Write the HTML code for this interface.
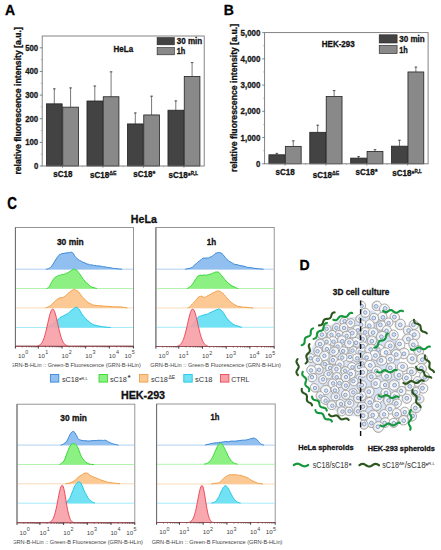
<!DOCTYPE html>
<html><head><meta charset="utf-8"><style>
html,body{margin:0;padding:0;background:#fff;width:441px;height:550px;overflow:hidden;}
svg{display:block;font-family:"Liberation Sans", sans-serif;}
</style></head><body>
<svg width="441" height="550" viewBox="0 0 441 550" font-family='"Liberation Sans", sans-serif'>
<rect width="441" height="550" fill="#fff"/>
<text x="5.00" y="15.30" font-size="14.6" font-weight="bold" stroke="#000" stroke-width="0.3" text-anchor="start" fill="#000" textLength="10.1" lengthAdjust="spacingAndGlyphs" >A</text>
<text x="223.80" y="15.40" font-size="14" font-weight="bold" stroke="#000" stroke-width="0.3" text-anchor="start" fill="#000" >B</text>
<text x="7.20" y="208.80" font-size="15.6" font-weight="bold" stroke="#000" stroke-width="0.3" text-anchor="start" fill="#000" textLength="9.7" lengthAdjust="spacingAndGlyphs" >C</text>
<text x="299.60" y="270.10" font-size="14" font-weight="bold" stroke="#000" stroke-width="0.3" text-anchor="start" fill="#000" >D</text>
<line x1="54.31" y1="103.84" x2="54.31" y2="88.47" stroke="#555" stroke-width="0.8"/>
<line x1="53.01" y1="88.87" x2="55.61" y2="88.87" stroke="#444" stroke-width="0.9"/>
<rect x="46.47" y="103.84" width="15.68" height="62.16" fill="#434343" stroke="#222" stroke-width="0.8"/>
<line x1="70.59" y1="107.15" x2="70.59" y2="87.53" stroke="#555" stroke-width="0.8"/>
<line x1="69.29" y1="87.93" x2="71.89" y2="87.93" stroke="#444" stroke-width="0.9"/>
<rect x="62.75" y="107.15" width="15.68" height="58.85" fill="#898989" stroke="#222" stroke-width="0.8"/>
<line x1="94.81" y1="101.00" x2="94.81" y2="85.64" stroke="#555" stroke-width="0.8"/>
<line x1="93.51" y1="86.04" x2="96.11" y2="86.04" stroke="#444" stroke-width="0.9"/>
<rect x="86.97" y="101.00" width="15.68" height="65.00" fill="#434343" stroke="#222" stroke-width="0.8"/>
<line x1="111.09" y1="96.75" x2="111.09" y2="71.45" stroke="#555" stroke-width="0.8"/>
<line x1="109.79" y1="71.85" x2="112.39" y2="71.85" stroke="#444" stroke-width="0.9"/>
<rect x="103.25" y="96.75" width="15.68" height="69.25" fill="#898989" stroke="#222" stroke-width="0.8"/>
<line x1="135.31" y1="123.93" x2="135.31" y2="112.58" stroke="#555" stroke-width="0.8"/>
<line x1="134.01" y1="112.98" x2="136.61" y2="112.98" stroke="#444" stroke-width="0.9"/>
<rect x="127.47" y="123.93" width="15.68" height="42.07" fill="#434343" stroke="#222" stroke-width="0.8"/>
<line x1="151.59" y1="114.95" x2="151.59" y2="95.80" stroke="#555" stroke-width="0.8"/>
<line x1="150.29" y1="96.20" x2="152.89" y2="96.20" stroke="#444" stroke-width="0.9"/>
<rect x="143.75" y="114.95" width="15.68" height="51.05" fill="#898989" stroke="#222" stroke-width="0.8"/>
<line x1="175.81" y1="110.22" x2="175.81" y2="100.53" stroke="#555" stroke-width="0.8"/>
<line x1="174.51" y1="100.93" x2="177.11" y2="100.93" stroke="#444" stroke-width="0.9"/>
<rect x="167.97" y="110.22" width="15.68" height="55.78" fill="#434343" stroke="#222" stroke-width="0.8"/>
<line x1="192.09" y1="76.42" x2="192.09" y2="62.24" stroke="#555" stroke-width="0.8"/>
<line x1="190.79" y1="62.64" x2="193.39" y2="62.64" stroke="#444" stroke-width="0.9"/>
<rect x="184.25" y="76.42" width="15.68" height="89.58" fill="#898989" stroke="#222" stroke-width="0.8"/>
<rect x="42.20" y="36.00" width="162.00" height="130.00" fill="none" stroke="#777" stroke-width="0.9"/>
<line x1="39.80" y1="166.00" x2="42.20" y2="166.00" stroke="#666" stroke-width="0.8"/>
<line x1="39.80" y1="142.36" x2="42.20" y2="142.36" stroke="#666" stroke-width="0.8"/>
<line x1="39.80" y1="118.73" x2="42.20" y2="118.73" stroke="#666" stroke-width="0.8"/>
<line x1="39.80" y1="95.09" x2="42.20" y2="95.09" stroke="#666" stroke-width="0.8"/>
<line x1="39.80" y1="71.45" x2="42.20" y2="71.45" stroke="#666" stroke-width="0.8"/>
<line x1="39.80" y1="47.82" x2="42.20" y2="47.82" stroke="#666" stroke-width="0.8"/>
<line x1="40.80" y1="154.18" x2="42.20" y2="154.18" stroke="#888" stroke-width="0.6"/>
<line x1="40.80" y1="130.55" x2="42.20" y2="130.55" stroke="#888" stroke-width="0.6"/>
<line x1="40.80" y1="106.91" x2="42.20" y2="106.91" stroke="#888" stroke-width="0.6"/>
<line x1="40.80" y1="83.27" x2="42.20" y2="83.27" stroke="#888" stroke-width="0.6"/>
<line x1="40.80" y1="59.64" x2="42.20" y2="59.64" stroke="#888" stroke-width="0.6"/>
<text x="38.20" y="168.95" font-size="8.2" font-weight="bold" stroke="#1a1a1a" stroke-width="0.3" text-anchor="end" fill="#1a1a1a" textLength="4.3" lengthAdjust="spacingAndGlyphs" >0</text>
<text x="38.20" y="145.31" font-size="8.2" font-weight="bold" stroke="#1a1a1a" stroke-width="0.3" text-anchor="end" fill="#1a1a1a" textLength="13.0" lengthAdjust="spacingAndGlyphs" >100</text>
<text x="38.20" y="121.68" font-size="8.2" font-weight="bold" stroke="#1a1a1a" stroke-width="0.3" text-anchor="end" fill="#1a1a1a" textLength="13.0" lengthAdjust="spacingAndGlyphs" >200</text>
<text x="38.20" y="98.04" font-size="8.2" font-weight="bold" stroke="#1a1a1a" stroke-width="0.3" text-anchor="end" fill="#1a1a1a" textLength="13.0" lengthAdjust="spacingAndGlyphs" >300</text>
<text x="38.20" y="74.40" font-size="8.2" font-weight="bold" stroke="#1a1a1a" stroke-width="0.3" text-anchor="end" fill="#1a1a1a" textLength="13.0" lengthAdjust="spacingAndGlyphs" >400</text>
<text x="38.20" y="50.77" font-size="8.2" font-weight="bold" stroke="#1a1a1a" stroke-width="0.3" text-anchor="end" fill="#1a1a1a" textLength="13.0" lengthAdjust="spacingAndGlyphs" >500</text>
<line x1="62.45" y1="166.00" x2="62.45" y2="167.80" stroke="#666" stroke-width="0.7"/>
<line x1="102.95" y1="166.00" x2="102.95" y2="167.80" stroke="#666" stroke-width="0.7"/>
<line x1="82.70" y1="166.00" x2="82.70" y2="167.20" stroke="#888" stroke-width="0.6"/>
<line x1="143.45" y1="166.00" x2="143.45" y2="167.80" stroke="#666" stroke-width="0.7"/>
<line x1="123.20" y1="166.00" x2="123.20" y2="167.20" stroke="#888" stroke-width="0.6"/>
<line x1="183.95" y1="166.00" x2="183.95" y2="167.80" stroke="#666" stroke-width="0.7"/>
<line x1="163.70" y1="166.00" x2="163.70" y2="167.20" stroke="#888" stroke-width="0.6"/>
<rect x="157.10" y="37.60" width="17.20" height="7.20" fill="#434343" stroke="#222" stroke-width="0.6"/>
<rect x="157.10" y="47.60" width="17.20" height="7.20" fill="#898989" stroke="#222" stroke-width="0.6"/>
<text x="176.70" y="44.20" font-size="9.0" font-weight="bold" stroke="#111" stroke-width="0.3" text-anchor="start" fill="#111" textLength="25.6" lengthAdjust="spacingAndGlyphs" >30 min</text>
<text x="176.70" y="54.00" font-size="9.0" font-weight="bold" stroke="#111" stroke-width="0.3" text-anchor="start" fill="#111" textLength="8.6" lengthAdjust="spacingAndGlyphs" >1h</text>
<text x="113.60" y="51.90" font-size="8.7" font-weight="bold" stroke="#111" stroke-width="0.3" text-anchor="start" fill="#111" textLength="19.5" lengthAdjust="spacingAndGlyphs" >HeLa</text>
<text transform="translate(21.40,174.60) rotate(-90)" font-size="8.6" font-weight="bold" fill="#111" stroke="#111" stroke-width="0.3" textLength="147.5" lengthAdjust="spacingAndGlyphs">relative fluorescence intensity [a.u.]</text>
<line x1="276.82" y1="154.80" x2="276.82" y2="152.99" stroke="#555" stroke-width="0.8"/>
<line x1="275.52" y1="153.39" x2="278.12" y2="153.39" stroke="#444" stroke-width="0.9"/>
<rect x="268.91" y="154.80" width="15.83" height="9.00" fill="#434343" stroke="#222" stroke-width="0.8"/>
<line x1="293.25" y1="146.38" x2="293.25" y2="140.47" stroke="#555" stroke-width="0.8"/>
<line x1="291.95" y1="140.87" x2="294.55" y2="140.87" stroke="#444" stroke-width="0.9"/>
<rect x="285.34" y="146.38" width="15.83" height="17.42" fill="#898989" stroke="#222" stroke-width="0.8"/>
<line x1="317.70" y1="132.31" x2="317.70" y2="124.83" stroke="#555" stroke-width="0.8"/>
<line x1="316.40" y1="125.23" x2="319.00" y2="125.23" stroke="#444" stroke-width="0.9"/>
<rect x="309.78" y="132.31" width="15.83" height="31.49" fill="#434343" stroke="#222" stroke-width="0.8"/>
<line x1="334.13" y1="96.49" x2="334.13" y2="90.20" stroke="#555" stroke-width="0.8"/>
<line x1="332.83" y1="90.60" x2="335.43" y2="90.60" stroke="#444" stroke-width="0.9"/>
<rect x="326.21" y="96.49" width="15.83" height="67.31" fill="#898989" stroke="#222" stroke-width="0.8"/>
<line x1="358.57" y1="158.11" x2="358.57" y2="156.19" stroke="#555" stroke-width="0.8"/>
<line x1="357.27" y1="156.59" x2="359.87" y2="156.59" stroke="#444" stroke-width="0.9"/>
<rect x="350.66" y="158.11" width="15.83" height="5.69" fill="#434343" stroke="#222" stroke-width="0.8"/>
<line x1="375.00" y1="151.47" x2="375.00" y2="149.29" stroke="#555" stroke-width="0.8"/>
<line x1="373.70" y1="149.69" x2="376.30" y2="149.69" stroke="#444" stroke-width="0.9"/>
<rect x="367.09" y="151.47" width="15.83" height="12.33" fill="#898989" stroke="#222" stroke-width="0.8"/>
<line x1="399.45" y1="146.17" x2="399.45" y2="139.87" stroke="#555" stroke-width="0.8"/>
<line x1="398.15" y1="140.27" x2="400.75" y2="140.27" stroke="#444" stroke-width="0.9"/>
<rect x="391.53" y="146.17" width="15.83" height="17.63" fill="#434343" stroke="#222" stroke-width="0.8"/>
<line x1="415.88" y1="71.96" x2="415.88" y2="66.71" stroke="#555" stroke-width="0.8"/>
<line x1="414.58" y1="67.11" x2="417.18" y2="67.11" stroke="#444" stroke-width="0.9"/>
<rect x="407.96" y="71.96" width="15.83" height="91.84" fill="#898989" stroke="#222" stroke-width="0.8"/>
<rect x="264.60" y="32.60" width="163.50" height="131.20" fill="none" stroke="#777" stroke-width="0.9"/>
<line x1="262.20" y1="163.80" x2="264.60" y2="163.80" stroke="#666" stroke-width="0.8"/>
<line x1="262.20" y1="137.56" x2="264.60" y2="137.56" stroke="#666" stroke-width="0.8"/>
<line x1="262.20" y1="111.32" x2="264.60" y2="111.32" stroke="#666" stroke-width="0.8"/>
<line x1="262.20" y1="85.08" x2="264.60" y2="85.08" stroke="#666" stroke-width="0.8"/>
<line x1="262.20" y1="58.84" x2="264.60" y2="58.84" stroke="#666" stroke-width="0.8"/>
<line x1="262.20" y1="32.60" x2="264.60" y2="32.60" stroke="#666" stroke-width="0.8"/>
<line x1="263.20" y1="150.68" x2="264.60" y2="150.68" stroke="#888" stroke-width="0.6"/>
<line x1="263.20" y1="124.44" x2="264.60" y2="124.44" stroke="#888" stroke-width="0.6"/>
<line x1="263.20" y1="98.20" x2="264.60" y2="98.20" stroke="#888" stroke-width="0.6"/>
<line x1="263.20" y1="71.96" x2="264.60" y2="71.96" stroke="#888" stroke-width="0.6"/>
<line x1="263.20" y1="45.72" x2="264.60" y2="45.72" stroke="#888" stroke-width="0.6"/>
<text x="260.40" y="166.75" font-size="8.2" font-weight="bold" stroke="#1a1a1a" stroke-width="0.3" text-anchor="end" fill="#1a1a1a" textLength="4.3" lengthAdjust="spacingAndGlyphs" >0</text>
<text x="260.40" y="140.51" font-size="8.2" font-weight="bold" stroke="#1a1a1a" stroke-width="0.3" text-anchor="end" fill="#1a1a1a" textLength="19.9" lengthAdjust="spacingAndGlyphs" >1,000</text>
<text x="260.40" y="114.27" font-size="8.2" font-weight="bold" stroke="#1a1a1a" stroke-width="0.3" text-anchor="end" fill="#1a1a1a" textLength="19.9" lengthAdjust="spacingAndGlyphs" >2,000</text>
<text x="260.40" y="88.03" font-size="8.2" font-weight="bold" stroke="#1a1a1a" stroke-width="0.3" text-anchor="end" fill="#1a1a1a" textLength="19.9" lengthAdjust="spacingAndGlyphs" >3,000</text>
<text x="260.40" y="61.79" font-size="8.2" font-weight="bold" stroke="#1a1a1a" stroke-width="0.3" text-anchor="end" fill="#1a1a1a" textLength="19.9" lengthAdjust="spacingAndGlyphs" >4,000</text>
<text x="260.40" y="35.55" font-size="8.2" font-weight="bold" stroke="#1a1a1a" stroke-width="0.3" text-anchor="end" fill="#1a1a1a" textLength="19.9" lengthAdjust="spacingAndGlyphs" >5,000</text>
<line x1="285.04" y1="163.80" x2="285.04" y2="165.60" stroke="#666" stroke-width="0.7"/>
<line x1="325.91" y1="163.80" x2="325.91" y2="165.60" stroke="#666" stroke-width="0.7"/>
<line x1="305.48" y1="163.80" x2="305.48" y2="165.00" stroke="#888" stroke-width="0.6"/>
<line x1="366.79" y1="163.80" x2="366.79" y2="165.60" stroke="#666" stroke-width="0.7"/>
<line x1="346.35" y1="163.80" x2="346.35" y2="165.00" stroke="#888" stroke-width="0.6"/>
<line x1="407.66" y1="163.80" x2="407.66" y2="165.60" stroke="#666" stroke-width="0.7"/>
<line x1="387.23" y1="163.80" x2="387.23" y2="165.00" stroke="#888" stroke-width="0.6"/>
<rect x="379.20" y="34.80" width="17.90" height="8.20" fill="#434343" stroke="#222" stroke-width="0.6"/>
<rect x="379.20" y="45.40" width="17.90" height="8.20" fill="#898989" stroke="#222" stroke-width="0.6"/>
<text x="399.20" y="42.40" font-size="9.0" font-weight="bold" stroke="#111" stroke-width="0.3" text-anchor="start" fill="#111" textLength="25.6" lengthAdjust="spacingAndGlyphs" >30 min</text>
<text x="399.20" y="52.80" font-size="9.0" font-weight="bold" stroke="#111" stroke-width="0.3" text-anchor="start" fill="#111" textLength="8.6" lengthAdjust="spacingAndGlyphs" >1h</text>
<text x="321.80" y="46.80" font-size="8.7" font-weight="bold" stroke="#111" stroke-width="0.3" text-anchor="start" fill="#111" textLength="32.9" lengthAdjust="spacingAndGlyphs" >HEK-293</text>
<text transform="translate(236.80,171.90) rotate(-90)" font-size="8.6" font-weight="bold" fill="#111" stroke="#111" stroke-width="0.3" textLength="148" lengthAdjust="spacingAndGlyphs">relative fluorescence intensity [a.u.]</text>
<text x="53.20" y="177.20" font-size="8.4" font-weight="bold" fill="#111" stroke="#111" stroke-width="0.3"><tspan textLength="19.2" lengthAdjust="spacingAndGlyphs">sC18</tspan></text>
<text x="90.00" y="178.40" font-size="8.4" font-weight="bold" fill="#111" stroke="#111" stroke-width="0.3"><tspan textLength="19.2" lengthAdjust="spacingAndGlyphs">sC18</tspan><tspan font-size="5.2" fill="#444" dy="-3.2">ΔE</tspan></text>
<text x="133.20" y="177.20" font-size="8.4" font-weight="bold" fill="#111" stroke="#111" stroke-width="0.3"><tspan textLength="19.2" lengthAdjust="spacingAndGlyphs">sC18</tspan><tspan font-size="7.5" dy="-1.6">*</tspan></text>
<text x="168.60" y="177.90" font-size="8.4" font-weight="bold" fill="#111" stroke="#111" stroke-width="0.3"><tspan textLength="19.2" lengthAdjust="spacingAndGlyphs">sC18</tspan><tspan font-size="7.5">*</tspan><tspan font-size="4.6" fill="#222" dy="-2.9">R,L</tspan></text>
<text x="275.60" y="175.00" font-size="8.4" font-weight="bold" fill="#111" stroke="#111" stroke-width="0.3"><tspan textLength="19.2" lengthAdjust="spacingAndGlyphs">sC18</tspan></text>
<text x="312.80" y="177.70" font-size="8.4" font-weight="bold" fill="#111" stroke="#111" stroke-width="0.3"><tspan textLength="19.2" lengthAdjust="spacingAndGlyphs">sC18</tspan><tspan font-size="5.2" fill="#444" dy="-3.2">ΔE</tspan></text>
<text x="355.60" y="175.30" font-size="8.4" font-weight="bold" fill="#111" stroke="#111" stroke-width="0.3"><tspan textLength="19.2" lengthAdjust="spacingAndGlyphs">sC18</tspan><tspan font-size="7.5" dy="-1.6">*</tspan></text>
<text x="392.30" y="176.30" font-size="8.4" font-weight="bold" fill="#111" stroke="#111" stroke-width="0.3"><tspan textLength="19.2" lengthAdjust="spacingAndGlyphs">sC18</tspan><tspan font-size="7.5">*</tspan><tspan font-size="4.6" fill="#222" dy="-2.9">R,L</tspan></text>
<text x="130.80" y="222.80" font-size="10.7" font-weight="bold" stroke="#111" stroke-width="0.3" text-anchor="start" fill="#111" textLength="26.0" lengthAdjust="spacingAndGlyphs" >HeLa</text>
<text x="120.90" y="398.60" font-size="10.7" font-weight="bold" stroke="#111" stroke-width="0.3" text-anchor="start" fill="#111" textLength="44.2" lengthAdjust="spacingAndGlyphs" >HEK-293</text>
<rect x="15.40" y="227.50" width="118.10" height="118.80" fill="#fff" stroke="#8a8a8a" stroke-width="0.9"/>
<line x1="15.90" y1="269.20" x2="133.00" y2="269.20" stroke="#9cc4ee" stroke-width="0.8"/>
<path d="M46.00,269.20 L46.00,269.20 L46.45,269.15 L47.09,269.08 L47.83,268.93 L48.60,268.60 L49.39,268.19 L50.25,267.64 L51.13,266.60 L52.00,265.91 L52.85,264.43 L53.70,263.04 L54.55,261.65 L55.40,260.00 L56.29,258.88 L57.21,257.34 L58.07,256.33 L58.80,255.40 L59.30,254.72 L59.64,254.29 L59.99,254.53 L60.50,254.34 L61.24,253.92 L62.11,253.56 L63.05,253.55 L64.00,253.45 L64.99,252.98 L66.03,253.26 L67.06,252.69 L68.00,252.81 L68.84,252.68 L69.62,252.48 L70.34,252.22 L71.00,251.94 L71.55,252.35 L72.01,252.32 L72.47,252.61 L73.00,253.26 L73.65,254.01 L74.36,255.33 L75.09,256.46 L75.80,257.35 L76.48,257.86 L77.15,258.64 L77.82,259.27 L78.50,259.66 L79.17,260.18 L79.84,260.64 L80.53,260.75 L81.30,261.20 L82.15,261.89 L83.05,262.23 L84.00,262.74 L85.00,263.01 L86.02,263.48 L87.08,264.07 L88.20,264.06 L89.40,264.79 L90.73,264.88 L92.16,264.91 L93.61,265.39 L95.00,265.41 L96.29,265.83 L97.54,265.72 L98.76,265.87 L100.00,266.16 L101.23,266.21 L102.45,266.68 L103.69,266.69 L105.00,266.95 L106.41,267.21 L107.89,267.53 L109.37,267.60 L110.80,267.78 L112.13,268.19 L113.39,268.32 L114.66,268.46 L116.00,268.60 L117.56,268.76 L119.28,268.94 L120.82,269.09 L121.90,269.20 L121.90,269.20 Z" fill="#90bff0" fill-opacity="1.0" stroke="none"/>
<path d="M46.00,269.20 L46.45,269.15 L47.09,269.08 L47.83,268.93 L48.60,268.60 L49.39,268.19 L50.25,267.64 L51.13,266.60 L52.00,265.91 L52.85,264.43 L53.70,263.04 L54.55,261.65 L55.40,260.00 L56.29,258.88 L57.21,257.34 L58.07,256.33 L58.80,255.40 L59.30,254.72 L59.64,254.29 L59.99,254.53 L60.50,254.34 L61.24,253.92 L62.11,253.56 L63.05,253.55 L64.00,253.45 L64.99,252.98 L66.03,253.26 L67.06,252.69 L68.00,252.81 L68.84,252.68 L69.62,252.48 L70.34,252.22 L71.00,251.94 L71.55,252.35 L72.01,252.32 L72.47,252.61 L73.00,253.26 L73.65,254.01 L74.36,255.33 L75.09,256.46 L75.80,257.35 L76.48,257.86 L77.15,258.64 L77.82,259.27 L78.50,259.66 L79.17,260.18 L79.84,260.64 L80.53,260.75 L81.30,261.20 L82.15,261.89 L83.05,262.23 L84.00,262.74 L85.00,263.01 L86.02,263.48 L87.08,264.07 L88.20,264.06 L89.40,264.79 L90.73,264.88 L92.16,264.91 L93.61,265.39 L95.00,265.41 L96.29,265.83 L97.54,265.72 L98.76,265.87 L100.00,266.16 L101.23,266.21 L102.45,266.68 L103.69,266.69 L105.00,266.95 L106.41,267.21 L107.89,267.53 L109.37,267.60 L110.80,267.78 L112.13,268.19 L113.39,268.32 L114.66,268.46 L116.00,268.60 L117.56,268.76 L119.28,268.94 L120.82,269.09 L121.90,269.20" fill="none" stroke="#3887d8" stroke-width="1.0" stroke-linejoin="round"/>
<line x1="15.90" y1="288.50" x2="133.00" y2="288.50" stroke="#9ff09a" stroke-width="0.8"/>
<path d="M46.50,288.50 L46.50,288.50 L46.88,288.37 L47.43,288.19 L48.04,287.91 L48.60,287.50 L49.08,286.83 L49.54,286.41 L50.01,285.27 L50.50,284.43 L51.02,283.29 L51.55,282.31 L52.11,281.51 L52.70,280.46 L53.31,279.38 L53.93,278.79 L54.61,277.74 L55.40,277.17 L56.33,276.61 L57.36,276.16 L58.44,275.42 L59.50,275.39 L60.52,275.05 L61.55,274.78 L62.58,274.35 L63.60,274.51 L64.63,274.04 L65.66,273.69 L66.68,273.16 L67.70,272.74 L68.74,272.09 L69.78,271.64 L70.79,270.83 L71.70,270.27 L72.50,269.60 L73.23,269.25 L73.88,269.46 L74.50,269.36 L75.06,269.37 L75.55,269.53 L76.02,269.67 L76.50,269.96 L76.95,270.48 L77.37,271.02 L77.85,271.38 L78.50,272.27 L79.38,273.45 L80.42,274.86 L81.53,276.68 L82.60,278.29 L83.62,279.57 L84.65,280.78 L85.67,282.25 L86.70,282.90 L87.72,283.95 L88.74,284.82 L89.77,285.67 L90.80,286.55 L91.89,287.08 L93.03,287.63 L94.10,287.74 L95.00,288.00 L95.70,288.21 L96.26,288.34 L96.69,288.43 L97.00,288.50 L97.00,288.50 Z" fill="#8cf082" fill-opacity="1.0" stroke="none"/>
<path d="M46.50,288.50 L46.88,288.37 L47.43,288.19 L48.04,287.91 L48.60,287.50 L49.08,286.83 L49.54,286.41 L50.01,285.27 L50.50,284.43 L51.02,283.29 L51.55,282.31 L52.11,281.51 L52.70,280.46 L53.31,279.38 L53.93,278.79 L54.61,277.74 L55.40,277.17 L56.33,276.61 L57.36,276.16 L58.44,275.42 L59.50,275.39 L60.52,275.05 L61.55,274.78 L62.58,274.35 L63.60,274.51 L64.63,274.04 L65.66,273.69 L66.68,273.16 L67.70,272.74 L68.74,272.09 L69.78,271.64 L70.79,270.83 L71.70,270.27 L72.50,269.60 L73.23,269.25 L73.88,269.46 L74.50,269.36 L75.06,269.37 L75.55,269.53 L76.02,269.67 L76.50,269.96 L76.95,270.48 L77.37,271.02 L77.85,271.38 L78.50,272.27 L79.38,273.45 L80.42,274.86 L81.53,276.68 L82.60,278.29 L83.62,279.57 L84.65,280.78 L85.67,282.25 L86.70,282.90 L87.72,283.95 L88.74,284.82 L89.77,285.67 L90.80,286.55 L91.89,287.08 L93.03,287.63 L94.10,287.74 L95.00,288.00 L95.70,288.21 L96.26,288.34 L96.69,288.43 L97.00,288.50" fill="none" stroke="#33d933" stroke-width="1.0" stroke-linejoin="round"/>
<line x1="15.90" y1="307.90" x2="133.00" y2="307.90" stroke="#f8cfa4" stroke-width="0.8"/>
<path d="M45.50,307.90 L45.50,307.90 L45.93,307.75 L46.54,307.54 L47.26,307.26 L48.00,306.90 L48.75,306.41 L49.55,306.21 L50.40,305.63 L51.30,304.85 L52.29,303.94 L53.34,302.74 L54.41,301.77 L55.40,300.85 L56.27,300.05 L57.06,299.47 L57.87,298.83 L58.80,298.54 L59.92,297.76 L61.16,297.65 L62.42,297.61 L63.60,297.12 L64.68,296.41 L65.70,295.60 L66.70,294.85 L67.70,293.63 L68.74,292.66 L69.78,291.98 L70.79,291.09 L71.70,290.61 L72.46,290.10 L73.10,289.62 L73.74,289.47 L74.50,289.24 L75.41,289.86 L76.42,290.44 L77.46,290.68 L78.50,291.79 L79.52,293.15 L80.54,294.37 L81.57,296.11 L82.60,297.19 L83.62,298.11 L84.65,299.24 L85.67,300.31 L86.70,301.42 L87.72,302.17 L88.74,302.99 L89.77,303.31 L90.80,303.98 L91.82,304.32 L92.84,304.92 L93.89,305.28 L95.00,305.24 L96.08,305.35 L97.14,305.53 L98.38,305.64 L100.00,305.74 L102.15,305.91 L104.69,306.29 L107.38,306.27 L110.00,306.47 L112.56,306.75 L115.16,306.85 L117.68,306.85 L120.00,306.90 L122.21,307.14 L124.33,307.43 L126.13,307.71 L127.40,307.90 L127.40,307.90 Z" fill="#fcc894" fill-opacity="1.0" stroke="none"/>
<path d="M45.50,307.90 L45.93,307.75 L46.54,307.54 L47.26,307.26 L48.00,306.90 L48.75,306.41 L49.55,306.21 L50.40,305.63 L51.30,304.85 L52.29,303.94 L53.34,302.74 L54.41,301.77 L55.40,300.85 L56.27,300.05 L57.06,299.47 L57.87,298.83 L58.80,298.54 L59.92,297.76 L61.16,297.65 L62.42,297.61 L63.60,297.12 L64.68,296.41 L65.70,295.60 L66.70,294.85 L67.70,293.63 L68.74,292.66 L69.78,291.98 L70.79,291.09 L71.70,290.61 L72.46,290.10 L73.10,289.62 L73.74,289.47 L74.50,289.24 L75.41,289.86 L76.42,290.44 L77.46,290.68 L78.50,291.79 L79.52,293.15 L80.54,294.37 L81.57,296.11 L82.60,297.19 L83.62,298.11 L84.65,299.24 L85.67,300.31 L86.70,301.42 L87.72,302.17 L88.74,302.99 L89.77,303.31 L90.80,303.98 L91.82,304.32 L92.84,304.92 L93.89,305.28 L95.00,305.24 L96.08,305.35 L97.14,305.53 L98.38,305.64 L100.00,305.74 L102.15,305.91 L104.69,306.29 L107.38,306.27 L110.00,306.47 L112.56,306.75 L115.16,306.85 L117.68,306.85 L120.00,306.90 L122.21,307.14 L124.33,307.43 L126.13,307.71 L127.40,307.90" fill="none" stroke="#f0a048" stroke-width="1.0" stroke-linejoin="round"/>
<line x1="15.90" y1="327.50" x2="133.00" y2="327.50" stroke="#8ee6f6" stroke-width="0.8"/>
<path d="M47.20,327.50 L47.20,327.50 L47.87,327.07 L48.83,326.59 L49.92,325.66 L51.00,324.77 L52.11,324.18 L53.31,322.99 L54.45,322.03 L55.40,321.27 L56.00,321.03 L56.38,320.71 L56.76,320.34 L57.40,319.85 L58.39,319.16 L59.58,318.16 L60.89,317.20 L62.20,316.43 L63.56,315.86 L65.00,315.04 L66.41,314.23 L67.70,313.81 L68.80,312.68 L69.79,311.68 L70.73,310.88 L71.70,310.07 L72.75,309.37 L73.83,308.66 L74.87,307.65 L75.80,307.48 L76.54,307.19 L77.15,307.31 L77.76,308.07 L78.50,308.85 L79.43,309.80 L80.46,311.53 L81.54,313.52 L82.60,315.09 L83.62,316.40 L84.65,317.27 L85.67,318.48 L86.70,319.88 L87.72,320.52 L88.74,321.33 L89.77,322.30 L90.80,323.17 L91.82,323.72 L92.84,324.48 L93.89,325.02 L95.00,324.96 L96.19,325.48 L97.45,325.82 L98.73,325.86 L100.00,326.33 L101.23,326.51 L102.45,326.69 L103.69,326.85 L105.00,327.00 L106.53,327.15 L108.21,327.29 L109.74,327.41 L110.80,327.50 L110.80,327.50 Z" fill="#70e2f4" fill-opacity="1.0" stroke="none"/>
<path d="M47.20,327.50 L47.87,327.07 L48.83,326.59 L49.92,325.66 L51.00,324.77 L52.11,324.18 L53.31,322.99 L54.45,322.03 L55.40,321.27 L56.00,321.03 L56.38,320.71 L56.76,320.34 L57.40,319.85 L58.39,319.16 L59.58,318.16 L60.89,317.20 L62.20,316.43 L63.56,315.86 L65.00,315.04 L66.41,314.23 L67.70,313.81 L68.80,312.68 L69.79,311.68 L70.73,310.88 L71.70,310.07 L72.75,309.37 L73.83,308.66 L74.87,307.65 L75.80,307.48 L76.54,307.19 L77.15,307.31 L77.76,308.07 L78.50,308.85 L79.43,309.80 L80.46,311.53 L81.54,313.52 L82.60,315.09 L83.62,316.40 L84.65,317.27 L85.67,318.48 L86.70,319.88 L87.72,320.52 L88.74,321.33 L89.77,322.30 L90.80,323.17 L91.82,323.72 L92.84,324.48 L93.89,325.02 L95.00,324.96 L96.19,325.48 L97.45,325.82 L98.73,325.86 L100.00,326.33 L101.23,326.51 L102.45,326.69 L103.69,326.85 L105.00,327.00 L106.53,327.15 L108.21,327.29 L109.74,327.41 L110.80,327.50" fill="none" stroke="#1ec6e6" stroke-width="1.0" stroke-linejoin="round"/>
<line x1="15.90" y1="346.30" x2="133.00" y2="346.30" stroke="#ee4858" stroke-width="0.8"/>
<path d="M37.70,346.30 L37.70,345.89 L38.20,345.74 L38.70,345.56 L39.20,345.33 L39.70,344.96 L40.20,344.60 L40.70,344.26 L41.20,343.70 L41.70,343.02 L42.20,342.24 L42.70,341.23 L43.20,340.21 L43.70,338.93 L44.20,337.58 L44.70,335.85 L45.20,334.22 L45.70,332.31 L46.20,330.26 L46.70,328.06 L47.20,325.95 L47.70,323.59 L48.20,321.42 L48.70,319.21 L49.20,317.10 L49.70,315.24 L50.20,313.39 L50.70,311.93 L51.20,310.74 L51.70,309.68 L52.20,309.25 L52.70,309.01 L53.20,309.14 L53.70,309.73 L54.20,310.68 L54.70,311.86 L55.20,313.37 L55.70,315.09 L56.20,317.18 L56.70,319.20 L57.20,321.47 L57.70,323.72 L58.20,325.88 L58.70,328.14 L59.20,330.27 L59.70,332.25 L60.20,334.11 L60.70,335.94 L61.20,337.48 L61.70,338.92 L62.20,340.16 L62.70,341.21 L63.20,342.20 L63.70,342.98 L64.20,343.66 L64.70,344.12 L65.20,344.62 L65.70,344.95 L66.20,345.33 L66.70,345.56 L67.20,345.74 L67.70,345.89 L67.70,346.30 Z" fill="#f7a0a7" fill-opacity="0.9" stroke="none"/>
<path d="M37.70,345.89 L38.20,345.74 L38.70,345.56 L39.20,345.33 L39.70,344.96 L40.20,344.60 L40.70,344.26 L41.20,343.70 L41.70,343.02 L42.20,342.24 L42.70,341.23 L43.20,340.21 L43.70,338.93 L44.20,337.58 L44.70,335.85 L45.20,334.22 L45.70,332.31 L46.20,330.26 L46.70,328.06 L47.20,325.95 L47.70,323.59 L48.20,321.42 L48.70,319.21 L49.20,317.10 L49.70,315.24 L50.20,313.39 L50.70,311.93 L51.20,310.74 L51.70,309.68 L52.20,309.25 L52.70,309.01 L53.20,309.14 L53.70,309.73 L54.20,310.68 L54.70,311.86 L55.20,313.37 L55.70,315.09 L56.20,317.18 L56.70,319.20 L57.20,321.47 L57.70,323.72 L58.20,325.88 L58.70,328.14 L59.20,330.27 L59.70,332.25 L60.20,334.11 L60.70,335.94 L61.20,337.48 L61.70,338.92 L62.20,340.16 L62.70,341.21 L63.20,342.20 L63.70,342.98 L64.20,343.66 L64.70,344.12 L65.20,344.62 L65.70,344.95 L66.20,345.33 L66.70,345.56 L67.20,345.74 L67.70,345.89" fill="none" stroke="#ee4858" stroke-width="1.0" stroke-linejoin="round"/>
<line x1="15.40" y1="346.30" x2="133.50" y2="346.30" stroke="#555" stroke-width="0.9"/>
<line x1="15.40" y1="227.50" x2="15.40" y2="346.30" stroke="#666" stroke-width="0.9"/>
<line x1="15.40" y1="346.30" x2="133.50" y2="346.30" stroke="#ee4858" stroke-width="0.5" stroke-opacity="0.8"/>
<line x1="15.40" y1="346.30" x2="15.40" y2="348.50" stroke="#222" stroke-width="0.9"/>
<line x1="22.29" y1="346.30" x2="22.29" y2="347.50" stroke="#333" stroke-width="0.5"/>
<line x1="26.33" y1="346.30" x2="26.33" y2="347.50" stroke="#333" stroke-width="0.5"/>
<line x1="29.19" y1="346.30" x2="29.19" y2="347.50" stroke="#333" stroke-width="0.5"/>
<line x1="31.41" y1="346.30" x2="31.41" y2="347.50" stroke="#333" stroke-width="0.5"/>
<line x1="33.22" y1="346.30" x2="33.22" y2="347.50" stroke="#333" stroke-width="0.5"/>
<line x1="34.75" y1="346.30" x2="34.75" y2="347.50" stroke="#333" stroke-width="0.5"/>
<line x1="36.08" y1="346.30" x2="36.08" y2="347.50" stroke="#333" stroke-width="0.5"/>
<line x1="37.25" y1="346.30" x2="37.25" y2="347.50" stroke="#333" stroke-width="0.5"/>
<line x1="38.30" y1="346.30" x2="38.30" y2="348.50" stroke="#222" stroke-width="0.9"/>
<line x1="45.43" y1="346.30" x2="45.43" y2="347.50" stroke="#333" stroke-width="0.5"/>
<line x1="49.61" y1="346.30" x2="49.61" y2="347.50" stroke="#333" stroke-width="0.5"/>
<line x1="52.57" y1="346.30" x2="52.57" y2="347.50" stroke="#333" stroke-width="0.5"/>
<line x1="54.87" y1="346.30" x2="54.87" y2="347.50" stroke="#333" stroke-width="0.5"/>
<line x1="56.74" y1="346.30" x2="56.74" y2="347.50" stroke="#333" stroke-width="0.5"/>
<line x1="58.33" y1="346.30" x2="58.33" y2="347.50" stroke="#333" stroke-width="0.5"/>
<line x1="59.70" y1="346.30" x2="59.70" y2="347.50" stroke="#333" stroke-width="0.5"/>
<line x1="60.92" y1="346.30" x2="60.92" y2="347.50" stroke="#333" stroke-width="0.5"/>
<line x1="62.00" y1="346.30" x2="62.00" y2="348.50" stroke="#222" stroke-width="0.9"/>
<line x1="69.13" y1="346.30" x2="69.13" y2="347.50" stroke="#333" stroke-width="0.5"/>
<line x1="73.31" y1="346.30" x2="73.31" y2="347.50" stroke="#333" stroke-width="0.5"/>
<line x1="76.27" y1="346.30" x2="76.27" y2="347.50" stroke="#333" stroke-width="0.5"/>
<line x1="78.57" y1="346.30" x2="78.57" y2="347.50" stroke="#333" stroke-width="0.5"/>
<line x1="80.44" y1="346.30" x2="80.44" y2="347.50" stroke="#333" stroke-width="0.5"/>
<line x1="82.03" y1="346.30" x2="82.03" y2="347.50" stroke="#333" stroke-width="0.5"/>
<line x1="83.40" y1="346.30" x2="83.40" y2="347.50" stroke="#333" stroke-width="0.5"/>
<line x1="84.62" y1="346.30" x2="84.62" y2="347.50" stroke="#333" stroke-width="0.5"/>
<line x1="85.70" y1="346.30" x2="85.70" y2="348.50" stroke="#222" stroke-width="0.9"/>
<line x1="92.83" y1="346.30" x2="92.83" y2="347.50" stroke="#333" stroke-width="0.5"/>
<line x1="97.01" y1="346.30" x2="97.01" y2="347.50" stroke="#333" stroke-width="0.5"/>
<line x1="99.97" y1="346.30" x2="99.97" y2="347.50" stroke="#333" stroke-width="0.5"/>
<line x1="102.27" y1="346.30" x2="102.27" y2="347.50" stroke="#333" stroke-width="0.5"/>
<line x1="104.14" y1="346.30" x2="104.14" y2="347.50" stroke="#333" stroke-width="0.5"/>
<line x1="105.73" y1="346.30" x2="105.73" y2="347.50" stroke="#333" stroke-width="0.5"/>
<line x1="107.10" y1="346.30" x2="107.10" y2="347.50" stroke="#333" stroke-width="0.5"/>
<line x1="108.32" y1="346.30" x2="108.32" y2="347.50" stroke="#333" stroke-width="0.5"/>
<line x1="109.40" y1="346.30" x2="109.40" y2="348.50" stroke="#222" stroke-width="0.9"/>
<line x1="116.65" y1="346.30" x2="116.65" y2="347.50" stroke="#333" stroke-width="0.5"/>
<line x1="120.90" y1="346.30" x2="120.90" y2="347.50" stroke="#333" stroke-width="0.5"/>
<line x1="123.91" y1="346.30" x2="123.91" y2="347.50" stroke="#333" stroke-width="0.5"/>
<line x1="126.25" y1="346.30" x2="126.25" y2="347.50" stroke="#333" stroke-width="0.5"/>
<line x1="128.15" y1="346.30" x2="128.15" y2="347.50" stroke="#333" stroke-width="0.5"/>
<line x1="129.77" y1="346.30" x2="129.77" y2="347.50" stroke="#333" stroke-width="0.5"/>
<line x1="131.16" y1="346.30" x2="131.16" y2="347.50" stroke="#333" stroke-width="0.5"/>
<line x1="132.40" y1="346.30" x2="132.40" y2="347.50" stroke="#333" stroke-width="0.5"/>
<line x1="133.50" y1="346.30" x2="133.50" y2="348.50" stroke="#222" stroke-width="0.9"/>
<text x="18.00" y="358.10" font-size="6.2" fill="#444">10<tspan font-size="5.4" dy="-3.8" dx="0.3">0</tspan></text>
<text x="38.00" y="358.10" font-size="6.2" fill="#444">10<tspan font-size="5.4" dy="-3.8" dx="0.3">1</tspan></text>
<text x="61.60" y="358.10" font-size="6.2" fill="#444">10<tspan font-size="5.4" dy="-3.8" dx="0.3">2</tspan></text>
<text x="85.20" y="358.10" font-size="6.2" fill="#444">10<tspan font-size="5.4" dy="-3.8" dx="0.3">3</tspan></text>
<text x="108.80" y="358.10" font-size="6.2" fill="#444">10<tspan font-size="5.4" dy="-3.8" dx="0.3">4</tspan></text>
<text x="124.60" y="358.10" font-size="6.2" fill="#444">10<tspan font-size="5.4" dy="-3.8" dx="0.3">5</tspan></text>
<text x="10.10" y="367.20" font-size="5.6" fill="#444" textLength="130.7" lengthAdjust="spacingAndGlyphs">GRN-B-HLin :: Green-B Fluorescence (GRN-B-HLin)</text>
<text x="56.90" y="244.90" font-size="9.2" font-weight="bold" stroke="#111" stroke-width="0.3" text-anchor="start" fill="#111" textLength="26.9" lengthAdjust="spacingAndGlyphs" >30 min</text>
<rect x="155.90" y="227.50" width="118.30" height="119.00" fill="#fff" stroke="#8a8a8a" stroke-width="0.9"/>
<line x1="156.40" y1="269.20" x2="273.70" y2="269.20" stroke="#9cc4ee" stroke-width="0.8"/>
<path d="M185.00,269.20 L185.00,269.20 L185.51,269.13 L186.24,269.03 L187.10,268.89 L188.00,268.70 L188.97,268.49 L190.03,268.27 L191.13,267.71 L192.20,267.52 L193.23,266.55 L194.26,265.31 L195.28,264.25 L196.30,263.58 L197.34,262.66 L198.39,261.59 L199.42,260.94 L200.40,260.13 L201.27,259.62 L202.06,258.82 L202.87,258.37 L203.80,258.00 L204.92,258.23 L206.16,257.95 L207.42,257.98 L208.60,258.08 L209.69,257.34 L210.74,256.82 L211.75,256.63 L212.70,255.67 L213.58,255.28 L214.39,254.48 L215.18,253.51 L216.00,253.03 L216.88,253.01 L217.79,252.63 L218.68,252.48 L219.50,252.58 L220.20,252.75 L220.81,252.90 L221.45,253.07 L222.20,254.04 L223.13,254.76 L224.17,256.10 L225.25,257.66 L226.30,258.68 L227.30,259.52 L228.30,260.47 L229.30,261.50 L230.30,261.76 L231.28,262.47 L232.25,262.89 L233.27,263.77 L234.40,264.12 L235.65,264.61 L237.00,264.57 L238.45,265.15 L240.00,265.59 L241.70,265.87 L243.52,266.11 L245.41,266.62 L247.30,267.32 L249.18,267.73 L251.08,267.65 L253.01,268.11 L255.00,268.40 L257.27,268.65 L259.73,268.88 L261.95,269.07 L263.50,269.20 L263.50,269.20 Z" fill="#90bff0" fill-opacity="1.0" stroke="none"/>
<path d="M185.00,269.20 L185.51,269.13 L186.24,269.03 L187.10,268.89 L188.00,268.70 L188.97,268.49 L190.03,268.27 L191.13,267.71 L192.20,267.52 L193.23,266.55 L194.26,265.31 L195.28,264.25 L196.30,263.58 L197.34,262.66 L198.39,261.59 L199.42,260.94 L200.40,260.13 L201.27,259.62 L202.06,258.82 L202.87,258.37 L203.80,258.00 L204.92,258.23 L206.16,257.95 L207.42,257.98 L208.60,258.08 L209.69,257.34 L210.74,256.82 L211.75,256.63 L212.70,255.67 L213.58,255.28 L214.39,254.48 L215.18,253.51 L216.00,253.03 L216.88,253.01 L217.79,252.63 L218.68,252.48 L219.50,252.58 L220.20,252.75 L220.81,252.90 L221.45,253.07 L222.20,254.04 L223.13,254.76 L224.17,256.10 L225.25,257.66 L226.30,258.68 L227.30,259.52 L228.30,260.47 L229.30,261.50 L230.30,261.76 L231.28,262.47 L232.25,262.89 L233.27,263.77 L234.40,264.12 L235.65,264.61 L237.00,264.57 L238.45,265.15 L240.00,265.59 L241.70,265.87 L243.52,266.11 L245.41,266.62 L247.30,267.32 L249.18,267.73 L251.08,267.65 L253.01,268.11 L255.00,268.40 L257.27,268.65 L259.73,268.88 L261.95,269.07 L263.50,269.20" fill="none" stroke="#3887d8" stroke-width="1.0" stroke-linejoin="round"/>
<line x1="156.40" y1="288.50" x2="273.70" y2="288.50" stroke="#9ff09a" stroke-width="0.8"/>
<path d="M186.80,288.50 L186.80,288.50 L187.17,288.37 L187.70,288.19 L188.33,287.91 L189.00,287.50 L189.71,286.87 L190.48,286.53 L191.31,285.74 L192.20,284.41 L193.19,283.13 L194.28,281.60 L195.35,279.46 L196.30,278.23 L197.04,277.17 L197.65,276.80 L198.26,275.85 L199.00,275.82 L199.93,275.15 L200.96,275.27 L202.04,275.32 L203.10,275.17 L204.12,274.93 L205.15,275.22 L206.17,275.23 L207.20,274.89 L208.22,274.78 L209.25,274.51 L210.28,274.12 L211.30,273.82 L212.34,273.37 L213.39,272.91 L214.42,272.55 L215.40,272.07 L216.30,272.11 L217.14,271.86 L217.97,272.04 L218.80,272.28 L219.67,273.19 L220.54,274.16 L221.40,275.47 L222.20,276.18 L222.89,277.16 L223.51,278.16 L224.14,278.83 L224.90,279.48 L225.83,280.91 L226.87,281.63 L227.95,282.89 L229.00,283.80 L230.00,284.43 L231.00,285.35 L232.00,285.92 L233.00,286.41 L234.08,286.79 L235.22,287.50 L236.27,287.90 L237.10,288.20 L237.65,288.38 L238.01,288.46 L238.23,288.48 L238.40,288.50 L238.40,288.50 Z" fill="#8cf082" fill-opacity="1.0" stroke="none"/>
<path d="M186.80,288.50 L187.17,288.37 L187.70,288.19 L188.33,287.91 L189.00,287.50 L189.71,286.87 L190.48,286.53 L191.31,285.74 L192.20,284.41 L193.19,283.13 L194.28,281.60 L195.35,279.46 L196.30,278.23 L197.04,277.17 L197.65,276.80 L198.26,275.85 L199.00,275.82 L199.93,275.15 L200.96,275.27 L202.04,275.32 L203.10,275.17 L204.12,274.93 L205.15,275.22 L206.17,275.23 L207.20,274.89 L208.22,274.78 L209.25,274.51 L210.28,274.12 L211.30,273.82 L212.34,273.37 L213.39,272.91 L214.42,272.55 L215.40,272.07 L216.30,272.11 L217.14,271.86 L217.97,272.04 L218.80,272.28 L219.67,273.19 L220.54,274.16 L221.40,275.47 L222.20,276.18 L222.89,277.16 L223.51,278.16 L224.14,278.83 L224.90,279.48 L225.83,280.91 L226.87,281.63 L227.95,282.89 L229.00,283.80 L230.00,284.43 L231.00,285.35 L232.00,285.92 L233.00,286.41 L234.08,286.79 L235.22,287.50 L236.27,287.90 L237.10,288.20 L237.65,288.38 L238.01,288.46 L238.23,288.48 L238.40,288.50" fill="none" stroke="#33d933" stroke-width="1.0" stroke-linejoin="round"/>
<line x1="156.40" y1="308.00" x2="273.70" y2="308.00" stroke="#f8cfa4" stroke-width="0.8"/>
<path d="M187.50,308.00 L187.50,308.00 L187.92,307.78 L188.53,307.49 L189.24,307.07 L190.00,306.58 L190.81,305.57 L191.70,304.70 L192.64,303.71 L193.60,302.75 L194.62,301.57 L195.71,300.39 L196.76,299.09 L197.70,298.11 L198.44,297.07 L199.05,296.81 L199.66,296.53 L200.40,296.41 L201.33,296.16 L202.36,296.53 L203.44,297.01 L204.50,297.31 L205.53,297.04 L206.55,296.49 L207.57,295.79 L208.60,295.37 L209.63,294.73 L210.66,294.32 L211.68,293.48 L212.70,292.96 L213.74,292.61 L214.78,292.15 L215.79,291.25 L216.70,291.20 L217.46,290.96 L218.10,291.05 L218.74,290.92 L219.50,291.11 L220.41,291.53 L221.42,292.30 L222.46,292.91 L223.50,294.05 L224.52,294.99 L225.54,296.32 L226.57,297.45 L227.60,298.83 L228.62,299.95 L229.65,300.88 L230.67,301.92 L231.70,302.66 L232.72,303.49 L233.74,304.09 L234.77,304.77 L235.80,305.29 L236.78,305.67 L237.72,306.29 L238.75,306.62 L240.00,306.56 L241.57,307.01 L243.38,307.15 L245.24,307.27 L247.00,307.40 L248.75,307.56 L250.54,307.74 L252.10,307.89 L253.20,308.00 L253.20,308.00 Z" fill="#fcc894" fill-opacity="1.0" stroke="none"/>
<path d="M187.50,308.00 L187.92,307.78 L188.53,307.49 L189.24,307.07 L190.00,306.58 L190.81,305.57 L191.70,304.70 L192.64,303.71 L193.60,302.75 L194.62,301.57 L195.71,300.39 L196.76,299.09 L197.70,298.11 L198.44,297.07 L199.05,296.81 L199.66,296.53 L200.40,296.41 L201.33,296.16 L202.36,296.53 L203.44,297.01 L204.50,297.31 L205.53,297.04 L206.55,296.49 L207.57,295.79 L208.60,295.37 L209.63,294.73 L210.66,294.32 L211.68,293.48 L212.70,292.96 L213.74,292.61 L214.78,292.15 L215.79,291.25 L216.70,291.20 L217.46,290.96 L218.10,291.05 L218.74,290.92 L219.50,291.11 L220.41,291.53 L221.42,292.30 L222.46,292.91 L223.50,294.05 L224.52,294.99 L225.54,296.32 L226.57,297.45 L227.60,298.83 L228.62,299.95 L229.65,300.88 L230.67,301.92 L231.70,302.66 L232.72,303.49 L233.74,304.09 L234.77,304.77 L235.80,305.29 L236.78,305.67 L237.72,306.29 L238.75,306.62 L240.00,306.56 L241.57,307.01 L243.38,307.15 L245.24,307.27 L247.00,307.40 L248.75,307.56 L250.54,307.74 L252.10,307.89 L253.20,308.00" fill="none" stroke="#f0a048" stroke-width="1.0" stroke-linejoin="round"/>
<line x1="156.40" y1="327.30" x2="273.70" y2="327.30" stroke="#8ee6f6" stroke-width="0.8"/>
<path d="M189.80,327.30 L189.80,327.30 L190.34,326.85 L191.11,326.39 L192.02,325.26 L193.00,324.23 L194.08,323.03 L195.29,320.78 L196.53,318.92 L197.70,317.64 L198.74,316.72 L199.71,316.16 L200.70,316.14 L201.80,315.59 L203.06,315.25 L204.41,314.83 L205.81,314.56 L207.20,314.14 L208.60,313.64 L210.04,312.75 L211.43,312.09 L212.70,311.40 L213.82,311.03 L214.83,310.56 L215.78,310.02 L216.70,309.57 L217.59,309.48 L218.44,308.99 L219.26,309.18 L220.10,309.44 L220.95,310.00 L221.80,310.77 L222.65,311.84 L223.50,313.15 L224.32,313.97 L225.11,315.39 L225.95,316.94 L226.90,318.28 L228.02,319.52 L229.26,321.10 L230.52,321.96 L231.70,323.22 L232.77,324.11 L233.79,324.64 L234.78,324.92 L235.80,325.65 L236.89,325.80 L238.03,326.03 L239.10,326.56 L240.00,326.80 L240.70,326.99 L241.26,327.13 L241.69,327.23 L242.00,327.30 L242.00,327.30 Z" fill="#70e2f4" fill-opacity="1.0" stroke="none"/>
<path d="M189.80,327.30 L190.34,326.85 L191.11,326.39 L192.02,325.26 L193.00,324.23 L194.08,323.03 L195.29,320.78 L196.53,318.92 L197.70,317.64 L198.74,316.72 L199.71,316.16 L200.70,316.14 L201.80,315.59 L203.06,315.25 L204.41,314.83 L205.81,314.56 L207.20,314.14 L208.60,313.64 L210.04,312.75 L211.43,312.09 L212.70,311.40 L213.82,311.03 L214.83,310.56 L215.78,310.02 L216.70,309.57 L217.59,309.48 L218.44,308.99 L219.26,309.18 L220.10,309.44 L220.95,310.00 L221.80,310.77 L222.65,311.84 L223.50,313.15 L224.32,313.97 L225.11,315.39 L225.95,316.94 L226.90,318.28 L228.02,319.52 L229.26,321.10 L230.52,321.96 L231.70,323.22 L232.77,324.11 L233.79,324.64 L234.78,324.92 L235.80,325.65 L236.89,325.80 L238.03,326.03 L239.10,326.56 L240.00,326.80 L240.70,326.99 L241.26,327.13 L241.69,327.23 L242.00,327.30" fill="none" stroke="#1ec6e6" stroke-width="1.0" stroke-linejoin="round"/>
<line x1="156.40" y1="346.50" x2="273.70" y2="346.50" stroke="#ee4858" stroke-width="0.8"/>
<path d="M177.40,346.50 L177.40,346.08 L177.90,345.94 L178.40,345.76 L178.90,345.54 L179.40,345.25 L179.90,344.92 L180.40,344.46 L180.90,343.88 L181.40,343.23 L181.90,342.49 L182.40,341.59 L182.90,340.67 L183.40,339.46 L183.90,338.09 L184.40,336.48 L184.90,334.90 L185.40,333.02 L185.90,331.18 L186.40,329.10 L186.90,326.90 L187.40,324.61 L187.90,322.38 L188.40,320.18 L188.90,318.13 L189.40,316.08 L189.90,314.25 L190.40,312.63 L190.90,311.34 L191.40,310.12 L191.90,309.52 L192.40,308.97 L192.90,308.94 L193.40,309.45 L193.90,310.03 L194.40,310.96 L194.90,312.24 L195.40,313.91 L195.90,315.75 L196.40,317.74 L196.90,319.70 L197.40,322.03 L197.90,324.18 L198.40,326.49 L198.90,328.58 L199.40,330.59 L199.90,332.73 L200.40,334.44 L200.90,336.20 L201.40,337.67 L201.90,339.09 L202.40,340.41 L202.90,341.35 L203.40,342.35 L203.90,343.23 L204.40,343.90 L204.90,344.36 L205.40,344.82 L205.90,345.22 L206.40,345.56 L206.90,345.72 L207.40,345.91 L207.90,346.06 L207.90,346.50 Z" fill="#f7a0a7" fill-opacity="0.9" stroke="none"/>
<path d="M177.40,346.08 L177.90,345.94 L178.40,345.76 L178.90,345.54 L179.40,345.25 L179.90,344.92 L180.40,344.46 L180.90,343.88 L181.40,343.23 L181.90,342.49 L182.40,341.59 L182.90,340.67 L183.40,339.46 L183.90,338.09 L184.40,336.48 L184.90,334.90 L185.40,333.02 L185.90,331.18 L186.40,329.10 L186.90,326.90 L187.40,324.61 L187.90,322.38 L188.40,320.18 L188.90,318.13 L189.40,316.08 L189.90,314.25 L190.40,312.63 L190.90,311.34 L191.40,310.12 L191.90,309.52 L192.40,308.97 L192.90,308.94 L193.40,309.45 L193.90,310.03 L194.40,310.96 L194.90,312.24 L195.40,313.91 L195.90,315.75 L196.40,317.74 L196.90,319.70 L197.40,322.03 L197.90,324.18 L198.40,326.49 L198.90,328.58 L199.40,330.59 L199.90,332.73 L200.40,334.44 L200.90,336.20 L201.40,337.67 L201.90,339.09 L202.40,340.41 L202.90,341.35 L203.40,342.35 L203.90,343.23 L204.40,343.90 L204.90,344.36 L205.40,344.82 L205.90,345.22 L206.40,345.56 L206.90,345.72 L207.40,345.91 L207.90,346.06" fill="none" stroke="#ee4858" stroke-width="1.0" stroke-linejoin="round"/>
<line x1="155.90" y1="346.50" x2="274.20" y2="346.50" stroke="#555" stroke-width="0.9"/>
<line x1="155.90" y1="227.50" x2="155.90" y2="346.50" stroke="#666" stroke-width="0.9"/>
<line x1="155.90" y1="346.50" x2="274.20" y2="346.50" stroke="#ee4858" stroke-width="0.5" stroke-opacity="0.8"/>
<line x1="155.90" y1="346.50" x2="155.90" y2="348.70" stroke="#222" stroke-width="0.9"/>
<line x1="162.79" y1="346.50" x2="162.79" y2="347.70" stroke="#333" stroke-width="0.5"/>
<line x1="166.83" y1="346.50" x2="166.83" y2="347.70" stroke="#333" stroke-width="0.5"/>
<line x1="169.69" y1="346.50" x2="169.69" y2="347.70" stroke="#333" stroke-width="0.5"/>
<line x1="171.91" y1="346.50" x2="171.91" y2="347.70" stroke="#333" stroke-width="0.5"/>
<line x1="173.72" y1="346.50" x2="173.72" y2="347.70" stroke="#333" stroke-width="0.5"/>
<line x1="175.25" y1="346.50" x2="175.25" y2="347.70" stroke="#333" stroke-width="0.5"/>
<line x1="176.58" y1="346.50" x2="176.58" y2="347.70" stroke="#333" stroke-width="0.5"/>
<line x1="177.75" y1="346.50" x2="177.75" y2="347.70" stroke="#333" stroke-width="0.5"/>
<line x1="178.80" y1="346.50" x2="178.80" y2="348.70" stroke="#222" stroke-width="0.9"/>
<line x1="185.93" y1="346.50" x2="185.93" y2="347.70" stroke="#333" stroke-width="0.5"/>
<line x1="190.11" y1="346.50" x2="190.11" y2="347.70" stroke="#333" stroke-width="0.5"/>
<line x1="193.07" y1="346.50" x2="193.07" y2="347.70" stroke="#333" stroke-width="0.5"/>
<line x1="195.37" y1="346.50" x2="195.37" y2="347.70" stroke="#333" stroke-width="0.5"/>
<line x1="197.24" y1="346.50" x2="197.24" y2="347.70" stroke="#333" stroke-width="0.5"/>
<line x1="198.83" y1="346.50" x2="198.83" y2="347.70" stroke="#333" stroke-width="0.5"/>
<line x1="200.20" y1="346.50" x2="200.20" y2="347.70" stroke="#333" stroke-width="0.5"/>
<line x1="201.42" y1="346.50" x2="201.42" y2="347.70" stroke="#333" stroke-width="0.5"/>
<line x1="202.50" y1="346.50" x2="202.50" y2="348.70" stroke="#222" stroke-width="0.9"/>
<line x1="209.63" y1="346.50" x2="209.63" y2="347.70" stroke="#333" stroke-width="0.5"/>
<line x1="213.81" y1="346.50" x2="213.81" y2="347.70" stroke="#333" stroke-width="0.5"/>
<line x1="216.77" y1="346.50" x2="216.77" y2="347.70" stroke="#333" stroke-width="0.5"/>
<line x1="219.07" y1="346.50" x2="219.07" y2="347.70" stroke="#333" stroke-width="0.5"/>
<line x1="220.94" y1="346.50" x2="220.94" y2="347.70" stroke="#333" stroke-width="0.5"/>
<line x1="222.53" y1="346.50" x2="222.53" y2="347.70" stroke="#333" stroke-width="0.5"/>
<line x1="223.90" y1="346.50" x2="223.90" y2="347.70" stroke="#333" stroke-width="0.5"/>
<line x1="225.12" y1="346.50" x2="225.12" y2="347.70" stroke="#333" stroke-width="0.5"/>
<line x1="226.20" y1="346.50" x2="226.20" y2="348.70" stroke="#222" stroke-width="0.9"/>
<line x1="233.33" y1="346.50" x2="233.33" y2="347.70" stroke="#333" stroke-width="0.5"/>
<line x1="237.51" y1="346.50" x2="237.51" y2="347.70" stroke="#333" stroke-width="0.5"/>
<line x1="240.47" y1="346.50" x2="240.47" y2="347.70" stroke="#333" stroke-width="0.5"/>
<line x1="242.77" y1="346.50" x2="242.77" y2="347.70" stroke="#333" stroke-width="0.5"/>
<line x1="244.64" y1="346.50" x2="244.64" y2="347.70" stroke="#333" stroke-width="0.5"/>
<line x1="246.23" y1="346.50" x2="246.23" y2="347.70" stroke="#333" stroke-width="0.5"/>
<line x1="247.60" y1="346.50" x2="247.60" y2="347.70" stroke="#333" stroke-width="0.5"/>
<line x1="248.82" y1="346.50" x2="248.82" y2="347.70" stroke="#333" stroke-width="0.5"/>
<line x1="249.90" y1="346.50" x2="249.90" y2="348.70" stroke="#222" stroke-width="0.9"/>
<line x1="257.22" y1="346.50" x2="257.22" y2="347.70" stroke="#333" stroke-width="0.5"/>
<line x1="261.49" y1="346.50" x2="261.49" y2="347.70" stroke="#333" stroke-width="0.5"/>
<line x1="264.53" y1="346.50" x2="264.53" y2="347.70" stroke="#333" stroke-width="0.5"/>
<line x1="266.88" y1="346.50" x2="266.88" y2="347.70" stroke="#333" stroke-width="0.5"/>
<line x1="268.81" y1="346.50" x2="268.81" y2="347.70" stroke="#333" stroke-width="0.5"/>
<line x1="270.44" y1="346.50" x2="270.44" y2="347.70" stroke="#333" stroke-width="0.5"/>
<line x1="271.85" y1="346.50" x2="271.85" y2="347.70" stroke="#333" stroke-width="0.5"/>
<line x1="273.09" y1="346.50" x2="273.09" y2="347.70" stroke="#333" stroke-width="0.5"/>
<line x1="274.20" y1="346.50" x2="274.20" y2="348.70" stroke="#222" stroke-width="0.9"/>
<text x="158.50" y="358.30" font-size="6.2" fill="#444">10<tspan font-size="5.4" dy="-3.8" dx="0.3">0</tspan></text>
<text x="178.50" y="358.30" font-size="6.2" fill="#444">10<tspan font-size="5.4" dy="-3.8" dx="0.3">1</tspan></text>
<text x="202.10" y="358.30" font-size="6.2" fill="#444">10<tspan font-size="5.4" dy="-3.8" dx="0.3">2</tspan></text>
<text x="225.70" y="358.30" font-size="6.2" fill="#444">10<tspan font-size="5.4" dy="-3.8" dx="0.3">3</tspan></text>
<text x="249.30" y="358.30" font-size="6.2" fill="#444">10<tspan font-size="5.4" dy="-3.8" dx="0.3">4</tspan></text>
<text x="265.10" y="358.30" font-size="6.2" fill="#444">10<tspan font-size="5.4" dy="-3.8" dx="0.3">5</tspan></text>
<text x="150.30" y="367.20" font-size="5.6" fill="#444" textLength="130.7" lengthAdjust="spacingAndGlyphs">GRN-B-HLin :: Green-B Fluorescence (GRN-B-HLin)</text>
<text x="206.80" y="244.90" font-size="9.2" font-weight="bold" stroke="#111" stroke-width="0.3" text-anchor="start" fill="#111" textLength="9.4" lengthAdjust="spacingAndGlyphs" >1h</text>
<rect x="17.00" y="404.20" width="117.80" height="118.50" fill="#fff" stroke="#8a8a8a" stroke-width="0.9"/>
<line x1="17.50" y1="445.10" x2="134.30" y2="445.10" stroke="#9cc4ee" stroke-width="0.8"/>
<path d="M60.60,445.10 L60.60,445.10 L61.00,445.02 L61.56,444.91 L62.24,444.70 L63.00,444.30 L63.89,443.78 L64.90,443.04 L65.94,441.85 L66.90,441.15 L67.75,439.31 L68.54,437.52 L69.32,436.14 L70.10,434.29 L70.90,433.20 L71.71,432.05 L72.51,431.62 L73.30,431.36 L74.10,431.85 L74.90,432.60 L75.68,434.09 L76.40,435.37 L77.03,436.40 L77.59,437.59 L78.16,438.73 L78.80,439.50 L79.43,439.63 L80.06,440.18 L80.85,440.02 L82.00,440.53 L83.68,440.70 L85.75,440.73 L87.92,441.00 L89.90,440.96 L91.61,440.65 L93.20,440.60 L94.74,440.53 L96.30,440.53 L97.95,440.33 L99.65,440.25 L101.25,440.40 L102.60,440.29 L103.60,440.58 L104.34,440.20 L105.02,440.36 L105.80,440.37 L106.75,440.81 L107.76,441.52 L108.79,442.22 L109.80,442.29 L110.76,443.11 L111.70,443.32 L112.66,443.74 L113.70,444.10 L114.95,444.33 L116.34,444.64 L117.62,444.91 L118.50,445.10 L118.50,445.10 Z" fill="#90bff0" fill-opacity="1.0" stroke="none"/>
<path d="M60.60,445.10 L61.00,445.02 L61.56,444.91 L62.24,444.70 L63.00,444.30 L63.89,443.78 L64.90,443.04 L65.94,441.85 L66.90,441.15 L67.75,439.31 L68.54,437.52 L69.32,436.14 L70.10,434.29 L70.90,433.20 L71.71,432.05 L72.51,431.62 L73.30,431.36 L74.10,431.85 L74.90,432.60 L75.68,434.09 L76.40,435.37 L77.03,436.40 L77.59,437.59 L78.16,438.73 L78.80,439.50 L79.43,439.63 L80.06,440.18 L80.85,440.02 L82.00,440.53 L83.68,440.70 L85.75,440.73 L87.92,441.00 L89.90,440.96 L91.61,440.65 L93.20,440.60 L94.74,440.53 L96.30,440.53 L97.95,440.33 L99.65,440.25 L101.25,440.40 L102.60,440.29 L103.60,440.58 L104.34,440.20 L105.02,440.36 L105.80,440.37 L106.75,440.81 L107.76,441.52 L108.79,442.22 L109.80,442.29 L110.76,443.11 L111.70,443.32 L112.66,443.74 L113.70,444.10 L114.95,444.33 L116.34,444.64 L117.62,444.91 L118.50,445.10" fill="none" stroke="#3887d8" stroke-width="1.0" stroke-linejoin="round"/>
<line x1="17.50" y1="464.50" x2="134.30" y2="464.50" stroke="#9ff09a" stroke-width="0.8"/>
<path d="M59.50,464.50 L59.50,464.50 L59.95,464.27 L60.59,463.94 L61.32,463.52 L62.00,462.88 L62.61,462.23 L63.21,462.02 L63.83,461.03 L64.50,460.00 L65.25,458.04 L66.06,455.81 L66.88,453.51 L67.70,451.37 L68.52,449.46 L69.35,447.32 L70.16,445.97 L70.90,444.94 L71.58,443.92 L72.21,443.60 L72.78,443.80 L73.30,443.88 L73.73,443.73 L74.09,443.72 L74.43,443.63 L74.80,443.90 L75.22,444.14 L75.65,444.56 L76.08,444.92 L76.50,445.31 L76.85,445.82 L77.16,446.41 L77.51,447.01 L78.00,447.99 L78.71,449.79 L79.58,452.05 L80.46,454.44 L81.20,456.11 L81.74,456.88 L82.16,458.03 L82.55,458.40 L83.00,458.94 L83.48,459.48 L83.97,460.42 L84.52,461.00 L85.20,461.63 L86.03,462.22 L86.98,462.90 L88.01,463.52 L89.10,464.00 L90.37,464.28 L91.79,464.41 L93.10,464.46 L94.00,464.50 L94.00,464.50 Z" fill="#8cf082" fill-opacity="1.0" stroke="none"/>
<path d="M59.50,464.50 L59.95,464.27 L60.59,463.94 L61.32,463.52 L62.00,462.88 L62.61,462.23 L63.21,462.02 L63.83,461.03 L64.50,460.00 L65.25,458.04 L66.06,455.81 L66.88,453.51 L67.70,451.37 L68.52,449.46 L69.35,447.32 L70.16,445.97 L70.90,444.94 L71.58,443.92 L72.21,443.60 L72.78,443.80 L73.30,443.88 L73.73,443.73 L74.09,443.72 L74.43,443.63 L74.80,443.90 L75.22,444.14 L75.65,444.56 L76.08,444.92 L76.50,445.31 L76.85,445.82 L77.16,446.41 L77.51,447.01 L78.00,447.99 L78.71,449.79 L79.58,452.05 L80.46,454.44 L81.20,456.11 L81.74,456.88 L82.16,458.03 L82.55,458.40 L83.00,458.94 L83.48,459.48 L83.97,460.42 L84.52,461.00 L85.20,461.63 L86.03,462.22 L86.98,462.90 L88.01,463.52 L89.10,464.00 L90.37,464.28 L91.79,464.41 L93.10,464.46 L94.00,464.50" fill="none" stroke="#33d933" stroke-width="1.0" stroke-linejoin="round"/>
<line x1="17.50" y1="483.80" x2="134.30" y2="483.80" stroke="#f8cfa4" stroke-width="0.8"/>
<path d="M65.00,483.80 L65.00,483.80 L65.51,483.75 L66.24,483.68 L67.10,483.57 L68.00,483.40 L68.96,483.21 L70.00,483.00 L71.09,482.46 L72.20,482.03 L73.32,481.28 L74.48,480.79 L75.65,479.79 L76.80,478.50 L77.92,477.46 L79.02,476.70 L80.14,475.73 L81.30,475.25 L82.52,474.36 L83.77,473.47 L85.06,473.10 L86.40,473.02 L87.77,473.39 L89.17,474.56 L90.64,475.60 L92.20,476.47 L93.90,477.10 L95.71,477.85 L97.56,478.53 L99.40,479.39 L101.22,480.11 L103.04,480.69 L104.87,481.42 L106.70,481.87 L108.56,482.53 L110.43,482.47 L112.27,482.86 L114.00,483.10 L115.73,483.33 L117.46,483.53 L118.95,483.69 L120.00,483.80 L120.00,483.80 Z" fill="#fcc894" fill-opacity="1.0" stroke="none"/>
<path d="M65.00,483.80 L65.51,483.75 L66.24,483.68 L67.10,483.57 L68.00,483.40 L68.96,483.21 L70.00,483.00 L71.09,482.46 L72.20,482.03 L73.32,481.28 L74.48,480.79 L75.65,479.79 L76.80,478.50 L77.92,477.46 L79.02,476.70 L80.14,475.73 L81.30,475.25 L82.52,474.36 L83.77,473.47 L85.06,473.10 L86.40,473.02 L87.77,473.39 L89.17,474.56 L90.64,475.60 L92.20,476.47 L93.90,477.10 L95.71,477.85 L97.56,478.53 L99.40,479.39 L101.22,480.11 L103.04,480.69 L104.87,481.42 L106.70,481.87 L108.56,482.53 L110.43,482.47 L112.27,482.86 L114.00,483.10 L115.73,483.33 L117.46,483.53 L118.95,483.69 L120.00,483.80" fill="none" stroke="#f0a048" stroke-width="1.0" stroke-linejoin="round"/>
<line x1="17.50" y1="503.20" x2="134.30" y2="503.20" stroke="#8ee6f6" stroke-width="0.8"/>
<path d="M64.00,503.20 L64.00,503.20 L64.32,503.19 L64.78,503.20 L65.35,503.09 L66.00,502.70 L66.79,502.12 L67.71,500.81 L68.65,499.80 L69.50,498.70 L70.23,497.35 L70.90,495.66 L71.54,493.78 L72.20,492.10 L72.85,490.76 L73.49,489.13 L74.15,487.31 L74.90,485.86 L75.78,484.60 L76.75,483.39 L77.72,482.19 L78.60,481.94 L79.32,481.80 L79.96,482.15 L80.59,482.72 L81.30,484.03 L82.13,485.57 L83.04,487.91 L83.97,490.29 L84.90,492.33 L85.82,493.76 L86.75,495.60 L87.68,497.36 L88.60,498.84 L89.53,499.67 L90.46,500.43 L91.36,501.24 L92.20,501.92 L93.02,502.31 L93.83,502.70 L94.52,502.99 L95.00,503.20 L95.00,503.20 Z" fill="#70e2f4" fill-opacity="1.0" stroke="none"/>
<path d="M64.00,503.20 L64.32,503.19 L64.78,503.20 L65.35,503.09 L66.00,502.70 L66.79,502.12 L67.71,500.81 L68.65,499.80 L69.50,498.70 L70.23,497.35 L70.90,495.66 L71.54,493.78 L72.20,492.10 L72.85,490.76 L73.49,489.13 L74.15,487.31 L74.90,485.86 L75.78,484.60 L76.75,483.39 L77.72,482.19 L78.60,481.94 L79.32,481.80 L79.96,482.15 L80.59,482.72 L81.30,484.03 L82.13,485.57 L83.04,487.91 L83.97,490.29 L84.90,492.33 L85.82,493.76 L86.75,495.60 L87.68,497.36 L88.60,498.84 L89.53,499.67 L90.46,500.43 L91.36,501.24 L92.20,501.92 L93.02,502.31 L93.83,502.70 L94.52,502.99 L95.00,503.20" fill="none" stroke="#1ec6e6" stroke-width="1.0" stroke-linejoin="round"/>
<line x1="17.50" y1="522.70" x2="134.30" y2="522.70" stroke="#ee4858" stroke-width="0.8"/>
<path d="M49.30,522.70 L49.30,522.28 L49.80,522.11 L50.30,521.89 L50.80,521.55 L51.30,521.11 L51.80,520.74 L52.30,520.14 L52.80,519.29 L53.30,518.31 L53.80,517.10 L54.30,515.82 L54.80,514.11 L55.30,512.30 L55.80,510.31 L56.30,508.13 L56.80,505.56 L57.30,503.15 L57.80,500.42 L58.30,497.90 L58.80,495.32 L59.30,492.78 L59.80,490.65 L60.30,488.60 L60.80,487.14 L61.30,486.07 L61.80,485.42 L62.30,485.23 L62.80,485.66 L63.30,486.73 L63.80,488.62 L64.30,490.80 L64.80,493.46 L65.30,496.21 L65.80,499.41 L66.30,502.49 L66.80,505.47 L67.30,508.22 L67.80,510.69 L68.30,512.99 L68.80,515.01 L69.30,516.65 L69.80,518.07 L70.30,519.32 L70.80,520.25 L71.30,520.79 L71.80,521.36 L72.30,521.80 L72.80,522.08 L73.30,522.28 L73.30,522.70 Z" fill="#f7a0a7" fill-opacity="0.9" stroke="none"/>
<path d="M49.30,522.28 L49.80,522.11 L50.30,521.89 L50.80,521.55 L51.30,521.11 L51.80,520.74 L52.30,520.14 L52.80,519.29 L53.30,518.31 L53.80,517.10 L54.30,515.82 L54.80,514.11 L55.30,512.30 L55.80,510.31 L56.30,508.13 L56.80,505.56 L57.30,503.15 L57.80,500.42 L58.30,497.90 L58.80,495.32 L59.30,492.78 L59.80,490.65 L60.30,488.60 L60.80,487.14 L61.30,486.07 L61.80,485.42 L62.30,485.23 L62.80,485.66 L63.30,486.73 L63.80,488.62 L64.30,490.80 L64.80,493.46 L65.30,496.21 L65.80,499.41 L66.30,502.49 L66.80,505.47 L67.30,508.22 L67.80,510.69 L68.30,512.99 L68.80,515.01 L69.30,516.65 L69.80,518.07 L70.30,519.32 L70.80,520.25 L71.30,520.79 L71.80,521.36 L72.30,521.80 L72.80,522.08 L73.30,522.28" fill="none" stroke="#ee4858" stroke-width="1.0" stroke-linejoin="round"/>
<line x1="17.00" y1="522.70" x2="134.80" y2="522.70" stroke="#555" stroke-width="0.9"/>
<line x1="17.00" y1="404.20" x2="17.00" y2="522.70" stroke="#666" stroke-width="0.9"/>
<line x1="17.00" y1="522.70" x2="134.80" y2="522.70" stroke="#ee4858" stroke-width="0.5" stroke-opacity="0.8"/>
<line x1="17.00" y1="522.70" x2="17.00" y2="524.90" stroke="#222" stroke-width="0.9"/>
<line x1="23.89" y1="522.70" x2="23.89" y2="523.90" stroke="#333" stroke-width="0.5"/>
<line x1="27.93" y1="522.70" x2="27.93" y2="523.90" stroke="#333" stroke-width="0.5"/>
<line x1="30.79" y1="522.70" x2="30.79" y2="523.90" stroke="#333" stroke-width="0.5"/>
<line x1="33.01" y1="522.70" x2="33.01" y2="523.90" stroke="#333" stroke-width="0.5"/>
<line x1="34.82" y1="522.70" x2="34.82" y2="523.90" stroke="#333" stroke-width="0.5"/>
<line x1="36.35" y1="522.70" x2="36.35" y2="523.90" stroke="#333" stroke-width="0.5"/>
<line x1="37.68" y1="522.70" x2="37.68" y2="523.90" stroke="#333" stroke-width="0.5"/>
<line x1="38.85" y1="522.70" x2="38.85" y2="523.90" stroke="#333" stroke-width="0.5"/>
<line x1="39.90" y1="522.70" x2="39.90" y2="524.90" stroke="#222" stroke-width="0.9"/>
<line x1="47.03" y1="522.70" x2="47.03" y2="523.90" stroke="#333" stroke-width="0.5"/>
<line x1="51.21" y1="522.70" x2="51.21" y2="523.90" stroke="#333" stroke-width="0.5"/>
<line x1="54.17" y1="522.70" x2="54.17" y2="523.90" stroke="#333" stroke-width="0.5"/>
<line x1="56.47" y1="522.70" x2="56.47" y2="523.90" stroke="#333" stroke-width="0.5"/>
<line x1="58.34" y1="522.70" x2="58.34" y2="523.90" stroke="#333" stroke-width="0.5"/>
<line x1="59.93" y1="522.70" x2="59.93" y2="523.90" stroke="#333" stroke-width="0.5"/>
<line x1="61.30" y1="522.70" x2="61.30" y2="523.90" stroke="#333" stroke-width="0.5"/>
<line x1="62.52" y1="522.70" x2="62.52" y2="523.90" stroke="#333" stroke-width="0.5"/>
<line x1="63.60" y1="522.70" x2="63.60" y2="524.90" stroke="#222" stroke-width="0.9"/>
<line x1="70.73" y1="522.70" x2="70.73" y2="523.90" stroke="#333" stroke-width="0.5"/>
<line x1="74.91" y1="522.70" x2="74.91" y2="523.90" stroke="#333" stroke-width="0.5"/>
<line x1="77.87" y1="522.70" x2="77.87" y2="523.90" stroke="#333" stroke-width="0.5"/>
<line x1="80.17" y1="522.70" x2="80.17" y2="523.90" stroke="#333" stroke-width="0.5"/>
<line x1="82.04" y1="522.70" x2="82.04" y2="523.90" stroke="#333" stroke-width="0.5"/>
<line x1="83.63" y1="522.70" x2="83.63" y2="523.90" stroke="#333" stroke-width="0.5"/>
<line x1="85.00" y1="522.70" x2="85.00" y2="523.90" stroke="#333" stroke-width="0.5"/>
<line x1="86.22" y1="522.70" x2="86.22" y2="523.90" stroke="#333" stroke-width="0.5"/>
<line x1="87.30" y1="522.70" x2="87.30" y2="524.90" stroke="#222" stroke-width="0.9"/>
<line x1="94.43" y1="522.70" x2="94.43" y2="523.90" stroke="#333" stroke-width="0.5"/>
<line x1="98.61" y1="522.70" x2="98.61" y2="523.90" stroke="#333" stroke-width="0.5"/>
<line x1="101.57" y1="522.70" x2="101.57" y2="523.90" stroke="#333" stroke-width="0.5"/>
<line x1="103.87" y1="522.70" x2="103.87" y2="523.90" stroke="#333" stroke-width="0.5"/>
<line x1="105.74" y1="522.70" x2="105.74" y2="523.90" stroke="#333" stroke-width="0.5"/>
<line x1="107.33" y1="522.70" x2="107.33" y2="523.90" stroke="#333" stroke-width="0.5"/>
<line x1="108.70" y1="522.70" x2="108.70" y2="523.90" stroke="#333" stroke-width="0.5"/>
<line x1="109.92" y1="522.70" x2="109.92" y2="523.90" stroke="#333" stroke-width="0.5"/>
<line x1="111.00" y1="522.70" x2="111.00" y2="524.90" stroke="#222" stroke-width="0.9"/>
<line x1="118.16" y1="522.70" x2="118.16" y2="523.90" stroke="#333" stroke-width="0.5"/>
<line x1="122.36" y1="522.70" x2="122.36" y2="523.90" stroke="#333" stroke-width="0.5"/>
<line x1="125.33" y1="522.70" x2="125.33" y2="523.90" stroke="#333" stroke-width="0.5"/>
<line x1="127.64" y1="522.70" x2="127.64" y2="523.90" stroke="#333" stroke-width="0.5"/>
<line x1="129.52" y1="522.70" x2="129.52" y2="523.90" stroke="#333" stroke-width="0.5"/>
<line x1="131.11" y1="522.70" x2="131.11" y2="523.90" stroke="#333" stroke-width="0.5"/>
<line x1="132.49" y1="522.70" x2="132.49" y2="523.90" stroke="#333" stroke-width="0.5"/>
<line x1="133.71" y1="522.70" x2="133.71" y2="523.90" stroke="#333" stroke-width="0.5"/>
<line x1="134.80" y1="522.70" x2="134.80" y2="524.90" stroke="#222" stroke-width="0.9"/>
<text x="19.60" y="534.50" font-size="6.2" fill="#444">10<tspan font-size="5.4" dy="-3.8" dx="0.3">0</tspan></text>
<text x="39.60" y="534.50" font-size="6.2" fill="#444">10<tspan font-size="5.4" dy="-3.8" dx="0.3">1</tspan></text>
<text x="63.20" y="534.50" font-size="6.2" fill="#444">10<tspan font-size="5.4" dy="-3.8" dx="0.3">2</tspan></text>
<text x="86.80" y="534.50" font-size="6.2" fill="#444">10<tspan font-size="5.4" dy="-3.8" dx="0.3">3</tspan></text>
<text x="110.40" y="534.50" font-size="6.2" fill="#444">10<tspan font-size="5.4" dy="-3.8" dx="0.3">4</tspan></text>
<text x="126.20" y="534.50" font-size="6.2" fill="#444">10<tspan font-size="5.4" dy="-3.8" dx="0.3">5</tspan></text>
<text x="12.20" y="544.00" font-size="5.6" fill="#444" textLength="130.7" lengthAdjust="spacingAndGlyphs">GRN-B-HLin :: Green-B Fluorescence (GRN-B-HLin)</text>
<text x="60.30" y="420.50" font-size="9.2" font-weight="bold" stroke="#111" stroke-width="0.3" text-anchor="start" fill="#111" textLength="26.6" lengthAdjust="spacingAndGlyphs" >30 min</text>
<rect x="156.60" y="404.00" width="118.60" height="118.50" fill="#fff" stroke="#8a8a8a" stroke-width="0.9"/>
<line x1="157.10" y1="445.10" x2="274.70" y2="445.10" stroke="#9cc4ee" stroke-width="0.8"/>
<path d="M205.00,445.10 L205.00,445.10 L205.49,444.97 L206.18,444.78 L207.03,444.55 L208.00,444.30 L209.08,444.26 L210.28,443.62 L211.62,443.45 L213.10,443.16 L214.69,442.94 L216.39,442.80 L218.27,442.67 L220.40,442.31 L222.87,442.05 L225.63,441.52 L228.49,441.71 L231.30,441.07 L234.11,441.23 L236.98,440.94 L239.74,440.49 L242.20,440.24 L244.32,440.15 L246.19,440.04 L247.87,439.51 L249.40,439.26 L250.76,438.63 L251.93,438.58 L252.98,438.20 L254.00,437.90 L254.97,438.64 L255.86,438.99 L256.72,439.49 L257.60,440.27 L258.52,441.52 L259.45,442.56 L260.36,443.55 L261.20,444.10 L262.02,444.56 L262.82,444.83 L263.52,444.98 L264.00,445.10 L264.00,445.10 Z" fill="#90bff0" fill-opacity="1.0" stroke="none"/>
<path d="M205.00,445.10 L205.49,444.97 L206.18,444.78 L207.03,444.55 L208.00,444.30 L209.08,444.26 L210.28,443.62 L211.62,443.45 L213.10,443.16 L214.69,442.94 L216.39,442.80 L218.27,442.67 L220.40,442.31 L222.87,442.05 L225.63,441.52 L228.49,441.71 L231.30,441.07 L234.11,441.23 L236.98,440.94 L239.74,440.49 L242.20,440.24 L244.32,440.15 L246.19,440.04 L247.87,439.51 L249.40,439.26 L250.76,438.63 L251.93,438.58 L252.98,438.20 L254.00,437.90 L254.97,438.64 L255.86,438.99 L256.72,439.49 L257.60,440.27 L258.52,441.52 L259.45,442.56 L260.36,443.55 L261.20,444.10 L262.02,444.56 L262.82,444.83 L263.52,444.98 L264.00,445.10" fill="none" stroke="#3887d8" stroke-width="1.0" stroke-linejoin="round"/>
<line x1="157.10" y1="464.30" x2="274.70" y2="464.30" stroke="#9ff09a" stroke-width="0.8"/>
<path d="M204.20,464.30 L204.20,464.07 L204.70,464.00 L205.20,463.90 L205.70,463.79 L206.20,463.64 L206.70,463.47 L207.20,463.17 L207.70,463.04 L208.20,462.63 L208.70,462.23 L209.20,461.91 L209.70,461.42 L210.20,460.71 L210.70,460.13 L211.20,459.47 L211.70,458.58 L212.20,457.77 L212.70,456.82 L213.20,455.85 L213.70,454.62 L214.20,453.46 L214.70,452.36 L215.20,451.13 L215.70,450.15 L216.20,448.98 L216.70,447.86 L217.20,446.76 L217.70,445.85 L218.20,445.18 L218.70,444.56 L219.20,444.02 L219.70,443.68 L220.20,443.43 L220.70,443.59 L221.20,443.64 L221.70,443.97 L222.20,444.41 L222.70,445.02 L223.20,445.77 L223.70,446.64 L224.20,447.55 L224.70,448.53 L225.20,449.47 L225.70,450.68 L226.20,451.74 L226.70,452.72 L227.20,453.89 L227.70,454.97 L228.20,455.97 L228.70,456.82 L229.20,457.76 L229.70,458.45 L230.20,459.23 L230.70,459.90 L231.20,460.67 L231.70,461.27 L232.20,461.75 L232.70,462.11 L233.20,462.44 L233.70,462.81 L234.20,463.13 L234.70,463.30 L235.20,463.50 L235.70,463.66 L236.20,463.79 L236.70,463.90 L237.20,463.99 L237.70,464.06 L237.70,464.30 Z" fill="#8cf082" fill-opacity="1.0" stroke="none"/>
<path d="M204.20,464.07 L204.70,464.00 L205.20,463.90 L205.70,463.79 L206.20,463.64 L206.70,463.47 L207.20,463.17 L207.70,463.04 L208.20,462.63 L208.70,462.23 L209.20,461.91 L209.70,461.42 L210.20,460.71 L210.70,460.13 L211.20,459.47 L211.70,458.58 L212.20,457.77 L212.70,456.82 L213.20,455.85 L213.70,454.62 L214.20,453.46 L214.70,452.36 L215.20,451.13 L215.70,450.15 L216.20,448.98 L216.70,447.86 L217.20,446.76 L217.70,445.85 L218.20,445.18 L218.70,444.56 L219.20,444.02 L219.70,443.68 L220.20,443.43 L220.70,443.59 L221.20,443.64 L221.70,443.97 L222.20,444.41 L222.70,445.02 L223.20,445.77 L223.70,446.64 L224.20,447.55 L224.70,448.53 L225.20,449.47 L225.70,450.68 L226.20,451.74 L226.70,452.72 L227.20,453.89 L227.70,454.97 L228.20,455.97 L228.70,456.82 L229.20,457.76 L229.70,458.45 L230.20,459.23 L230.70,459.90 L231.20,460.67 L231.70,461.27 L232.20,461.75 L232.70,462.11 L233.20,462.44 L233.70,462.81 L234.20,463.13 L234.70,463.30 L235.20,463.50 L235.70,463.66 L236.20,463.79 L236.70,463.90 L237.20,463.99 L237.70,464.06" fill="none" stroke="#33d933" stroke-width="1.0" stroke-linejoin="round"/>
<line x1="157.10" y1="484.00" x2="274.70" y2="484.00" stroke="#f8cfa4" stroke-width="0.8"/>
<path d="M211.00,484.00 L211.00,484.00 L211.70,483.90 L212.71,483.77 L213.86,483.60 L215.00,483.40 L216.15,483.22 L217.36,483.05 L218.57,482.82 L219.70,482.24 L220.71,481.43 L221.65,480.39 L222.56,479.28 L223.50,478.42 L224.47,477.86 L225.45,476.70 L226.43,476.27 L227.40,475.57 L228.31,475.25 L229.18,474.77 L230.11,474.86 L231.20,474.73 L232.51,474.71 L233.97,474.85 L235.50,474.63 L237.00,474.96 L238.45,475.26 L239.90,475.42 L241.35,475.38 L242.80,476.00 L244.25,476.63 L245.70,476.94 L247.15,477.69 L248.60,478.25 L250.05,479.55 L251.51,480.32 L252.96,481.08 L254.40,481.83 L255.90,482.35 L257.43,483.22 L258.87,483.33 L260.10,483.60 L261.09,483.79 L261.91,483.90 L262.54,483.96 L263.00,484.00 L263.00,484.00 Z" fill="#fcc894" fill-opacity="1.0" stroke="none"/>
<path d="M211.00,484.00 L211.70,483.90 L212.71,483.77 L213.86,483.60 L215.00,483.40 L216.15,483.22 L217.36,483.05 L218.57,482.82 L219.70,482.24 L220.71,481.43 L221.65,480.39 L222.56,479.28 L223.50,478.42 L224.47,477.86 L225.45,476.70 L226.43,476.27 L227.40,475.57 L228.31,475.25 L229.18,474.77 L230.11,474.86 L231.20,474.73 L232.51,474.71 L233.97,474.85 L235.50,474.63 L237.00,474.96 L238.45,475.26 L239.90,475.42 L241.35,475.38 L242.80,476.00 L244.25,476.63 L245.70,476.94 L247.15,477.69 L248.60,478.25 L250.05,479.55 L251.51,480.32 L252.96,481.08 L254.40,481.83 L255.90,482.35 L257.43,483.22 L258.87,483.33 L260.10,483.60 L261.09,483.79 L261.91,483.90 L262.54,483.96 L263.00,484.00" fill="none" stroke="#f0a048" stroke-width="1.0" stroke-linejoin="round"/>
<line x1="157.10" y1="503.20" x2="274.70" y2="503.20" stroke="#8ee6f6" stroke-width="0.8"/>
<path d="M211.50,503.20 L211.50,503.01 L212.00,502.93 L212.50,502.84 L213.00,502.71 L213.50,502.55 L214.00,502.35 L214.50,502.14 L215.00,501.86 L215.50,501.46 L216.00,500.85 L216.50,500.39 L217.00,499.70 L217.50,499.09 L218.00,498.19 L218.50,497.38 L219.00,496.44 L219.50,495.29 L220.00,494.15 L220.50,493.18 L221.00,491.94 L221.50,490.81 L222.00,489.80 L222.50,488.77 L223.00,487.92 L223.50,487.14 L224.00,486.53 L224.50,486.04 L225.00,485.81 L225.50,485.87 L226.00,486.05 L226.50,486.29 L227.00,486.67 L227.50,487.35 L228.00,488.03 L228.50,488.86 L229.00,489.63 L229.50,490.63 L230.00,491.72 L230.50,492.73 L231.00,493.68 L231.50,494.64 L232.00,495.59 L232.50,496.61 L233.00,497.45 L233.50,498.14 L234.00,498.93 L234.50,499.61 L235.00,500.18 L235.50,500.57 L236.00,501.14 L236.50,501.48 L237.00,501.84 L237.50,502.11 L238.00,502.32 L238.50,502.51 L239.00,502.66 L239.50,502.78 L240.00,502.88 L240.50,502.96 L240.50,503.20 Z" fill="#70e2f4" fill-opacity="1.0" stroke="none"/>
<path d="M211.50,503.01 L212.00,502.93 L212.50,502.84 L213.00,502.71 L213.50,502.55 L214.00,502.35 L214.50,502.14 L215.00,501.86 L215.50,501.46 L216.00,500.85 L216.50,500.39 L217.00,499.70 L217.50,499.09 L218.00,498.19 L218.50,497.38 L219.00,496.44 L219.50,495.29 L220.00,494.15 L220.50,493.18 L221.00,491.94 L221.50,490.81 L222.00,489.80 L222.50,488.77 L223.00,487.92 L223.50,487.14 L224.00,486.53 L224.50,486.04 L225.00,485.81 L225.50,485.87 L226.00,486.05 L226.50,486.29 L227.00,486.67 L227.50,487.35 L228.00,488.03 L228.50,488.86 L229.00,489.63 L229.50,490.63 L230.00,491.72 L230.50,492.73 L231.00,493.68 L231.50,494.64 L232.00,495.59 L232.50,496.61 L233.00,497.45 L233.50,498.14 L234.00,498.93 L234.50,499.61 L235.00,500.18 L235.50,500.57 L236.00,501.14 L236.50,501.48 L237.00,501.84 L237.50,502.11 L238.00,502.32 L238.50,502.51 L239.00,502.66 L239.50,502.78 L240.00,502.88 L240.50,502.96" fill="none" stroke="#1ec6e6" stroke-width="1.0" stroke-linejoin="round"/>
<line x1="157.10" y1="522.50" x2="274.70" y2="522.50" stroke="#ee4858" stroke-width="0.8"/>
<path d="M189.40,522.50 L189.40,522.09 L189.90,521.92 L190.40,521.68 L190.90,521.30 L191.40,520.87 L191.90,520.47 L192.40,519.85 L192.90,518.92 L193.40,518.01 L193.90,516.84 L194.40,515.22 L194.90,513.65 L195.40,511.67 L195.90,509.63 L196.40,507.21 L196.90,504.81 L197.40,502.26 L197.90,499.62 L198.40,496.86 L198.90,494.29 L199.40,491.87 L199.90,489.93 L200.40,488.07 L200.90,486.77 L201.40,485.87 L201.90,485.58 L202.40,485.78 L202.90,486.70 L203.40,488.26 L203.90,490.65 L204.40,493.25 L204.90,496.19 L205.40,499.32 L205.90,502.67 L206.40,505.79 L206.90,508.52 L207.40,511.15 L207.90,513.57 L208.40,515.64 L208.90,517.12 L209.40,518.56 L209.90,519.52 L210.40,520.40 L210.90,520.98 L211.40,521.56 L211.90,521.82 L212.40,522.05 L212.40,522.50 Z" fill="#f7a0a7" fill-opacity="0.9" stroke="none"/>
<path d="M189.40,522.09 L189.90,521.92 L190.40,521.68 L190.90,521.30 L191.40,520.87 L191.90,520.47 L192.40,519.85 L192.90,518.92 L193.40,518.01 L193.90,516.84 L194.40,515.22 L194.90,513.65 L195.40,511.67 L195.90,509.63 L196.40,507.21 L196.90,504.81 L197.40,502.26 L197.90,499.62 L198.40,496.86 L198.90,494.29 L199.40,491.87 L199.90,489.93 L200.40,488.07 L200.90,486.77 L201.40,485.87 L201.90,485.58 L202.40,485.78 L202.90,486.70 L203.40,488.26 L203.90,490.65 L204.40,493.25 L204.90,496.19 L205.40,499.32 L205.90,502.67 L206.40,505.79 L206.90,508.52 L207.40,511.15 L207.90,513.57 L208.40,515.64 L208.90,517.12 L209.40,518.56 L209.90,519.52 L210.40,520.40 L210.90,520.98 L211.40,521.56 L211.90,521.82 L212.40,522.05" fill="none" stroke="#ee4858" stroke-width="1.0" stroke-linejoin="round"/>
<line x1="156.60" y1="522.50" x2="275.20" y2="522.50" stroke="#555" stroke-width="0.9"/>
<line x1="156.60" y1="404.00" x2="156.60" y2="522.50" stroke="#666" stroke-width="0.9"/>
<line x1="156.60" y1="522.50" x2="275.20" y2="522.50" stroke="#ee4858" stroke-width="0.5" stroke-opacity="0.8"/>
<line x1="156.60" y1="522.50" x2="156.60" y2="524.70" stroke="#222" stroke-width="0.9"/>
<line x1="163.49" y1="522.50" x2="163.49" y2="523.70" stroke="#333" stroke-width="0.5"/>
<line x1="167.53" y1="522.50" x2="167.53" y2="523.70" stroke="#333" stroke-width="0.5"/>
<line x1="170.39" y1="522.50" x2="170.39" y2="523.70" stroke="#333" stroke-width="0.5"/>
<line x1="172.61" y1="522.50" x2="172.61" y2="523.70" stroke="#333" stroke-width="0.5"/>
<line x1="174.42" y1="522.50" x2="174.42" y2="523.70" stroke="#333" stroke-width="0.5"/>
<line x1="175.95" y1="522.50" x2="175.95" y2="523.70" stroke="#333" stroke-width="0.5"/>
<line x1="177.28" y1="522.50" x2="177.28" y2="523.70" stroke="#333" stroke-width="0.5"/>
<line x1="178.45" y1="522.50" x2="178.45" y2="523.70" stroke="#333" stroke-width="0.5"/>
<line x1="179.50" y1="522.50" x2="179.50" y2="524.70" stroke="#222" stroke-width="0.9"/>
<line x1="186.63" y1="522.50" x2="186.63" y2="523.70" stroke="#333" stroke-width="0.5"/>
<line x1="190.81" y1="522.50" x2="190.81" y2="523.70" stroke="#333" stroke-width="0.5"/>
<line x1="193.77" y1="522.50" x2="193.77" y2="523.70" stroke="#333" stroke-width="0.5"/>
<line x1="196.07" y1="522.50" x2="196.07" y2="523.70" stroke="#333" stroke-width="0.5"/>
<line x1="197.94" y1="522.50" x2="197.94" y2="523.70" stroke="#333" stroke-width="0.5"/>
<line x1="199.53" y1="522.50" x2="199.53" y2="523.70" stroke="#333" stroke-width="0.5"/>
<line x1="200.90" y1="522.50" x2="200.90" y2="523.70" stroke="#333" stroke-width="0.5"/>
<line x1="202.12" y1="522.50" x2="202.12" y2="523.70" stroke="#333" stroke-width="0.5"/>
<line x1="203.20" y1="522.50" x2="203.20" y2="524.70" stroke="#222" stroke-width="0.9"/>
<line x1="210.33" y1="522.50" x2="210.33" y2="523.70" stroke="#333" stroke-width="0.5"/>
<line x1="214.51" y1="522.50" x2="214.51" y2="523.70" stroke="#333" stroke-width="0.5"/>
<line x1="217.47" y1="522.50" x2="217.47" y2="523.70" stroke="#333" stroke-width="0.5"/>
<line x1="219.77" y1="522.50" x2="219.77" y2="523.70" stroke="#333" stroke-width="0.5"/>
<line x1="221.64" y1="522.50" x2="221.64" y2="523.70" stroke="#333" stroke-width="0.5"/>
<line x1="223.23" y1="522.50" x2="223.23" y2="523.70" stroke="#333" stroke-width="0.5"/>
<line x1="224.60" y1="522.50" x2="224.60" y2="523.70" stroke="#333" stroke-width="0.5"/>
<line x1="225.82" y1="522.50" x2="225.82" y2="523.70" stroke="#333" stroke-width="0.5"/>
<line x1="226.90" y1="522.50" x2="226.90" y2="524.70" stroke="#222" stroke-width="0.9"/>
<line x1="234.03" y1="522.50" x2="234.03" y2="523.70" stroke="#333" stroke-width="0.5"/>
<line x1="238.21" y1="522.50" x2="238.21" y2="523.70" stroke="#333" stroke-width="0.5"/>
<line x1="241.17" y1="522.50" x2="241.17" y2="523.70" stroke="#333" stroke-width="0.5"/>
<line x1="243.47" y1="522.50" x2="243.47" y2="523.70" stroke="#333" stroke-width="0.5"/>
<line x1="245.34" y1="522.50" x2="245.34" y2="523.70" stroke="#333" stroke-width="0.5"/>
<line x1="246.93" y1="522.50" x2="246.93" y2="523.70" stroke="#333" stroke-width="0.5"/>
<line x1="248.30" y1="522.50" x2="248.30" y2="523.70" stroke="#333" stroke-width="0.5"/>
<line x1="249.52" y1="522.50" x2="249.52" y2="523.70" stroke="#333" stroke-width="0.5"/>
<line x1="250.60" y1="522.50" x2="250.60" y2="524.70" stroke="#222" stroke-width="0.9"/>
<line x1="258.01" y1="522.50" x2="258.01" y2="523.70" stroke="#333" stroke-width="0.5"/>
<line x1="262.34" y1="522.50" x2="262.34" y2="523.70" stroke="#333" stroke-width="0.5"/>
<line x1="265.41" y1="522.50" x2="265.41" y2="523.70" stroke="#333" stroke-width="0.5"/>
<line x1="267.79" y1="522.50" x2="267.79" y2="523.70" stroke="#333" stroke-width="0.5"/>
<line x1="269.74" y1="522.50" x2="269.74" y2="523.70" stroke="#333" stroke-width="0.5"/>
<line x1="271.39" y1="522.50" x2="271.39" y2="523.70" stroke="#333" stroke-width="0.5"/>
<line x1="272.82" y1="522.50" x2="272.82" y2="523.70" stroke="#333" stroke-width="0.5"/>
<line x1="274.07" y1="522.50" x2="274.07" y2="523.70" stroke="#333" stroke-width="0.5"/>
<line x1="275.20" y1="522.50" x2="275.20" y2="524.70" stroke="#222" stroke-width="0.9"/>
<text x="159.20" y="534.30" font-size="6.2" fill="#444">10<tspan font-size="5.4" dy="-3.8" dx="0.3">0</tspan></text>
<text x="179.20" y="534.30" font-size="6.2" fill="#444">10<tspan font-size="5.4" dy="-3.8" dx="0.3">1</tspan></text>
<text x="202.80" y="534.30" font-size="6.2" fill="#444">10<tspan font-size="5.4" dy="-3.8" dx="0.3">2</tspan></text>
<text x="226.40" y="534.30" font-size="6.2" fill="#444">10<tspan font-size="5.4" dy="-3.8" dx="0.3">3</tspan></text>
<text x="250.00" y="534.30" font-size="6.2" fill="#444">10<tspan font-size="5.4" dy="-3.8" dx="0.3">4</tspan></text>
<text x="265.80" y="534.30" font-size="6.2" fill="#444">10<tspan font-size="5.4" dy="-3.8" dx="0.3">5</tspan></text>
<text x="151.70" y="543.80" font-size="5.6" fill="#444" textLength="130.7" lengthAdjust="spacingAndGlyphs">GRN-B-HLin :: Green-B Fluorescence (GRN-B-HLin)</text>
<text x="210.40" y="420.00" font-size="9.2" font-weight="bold" stroke="#111" stroke-width="0.3" text-anchor="start" fill="#111" textLength="8.9" lengthAdjust="spacingAndGlyphs" >1h</text>
<rect x="50.40" y="374.5" width="8.4" height="7.6" fill="#90bff0" stroke="#3887d8" stroke-width="0.9"/>
<text x="61.90" y="381.9" font-size="7.4" fill="#333"><tspan textLength="17" lengthAdjust="spacingAndGlyphs">sC18</tspan><tspan font-size="6" font-weight="bold" dy="0.5">*</tspan><tspan font-size="4.2" dy="-2.6">R,L</tspan></text>
<rect x="99.00" y="374.5" width="8.4" height="7.6" fill="#8cf082" stroke="#33d933" stroke-width="0.9"/>
<text x="109.90" y="381.9" font-size="7.4" fill="#333"><tspan textLength="17" lengthAdjust="spacingAndGlyphs">sC18</tspan><tspan font-size="8" font-weight="bold" dx="0.6" dy="-2.2">*</tspan></text>
<rect x="139.50" y="374.5" width="8.4" height="7.6" fill="#fcc894" stroke="#f0a048" stroke-width="0.9"/>
<text x="150.90" y="381.9" font-size="7.4" fill="#333"><tspan textLength="17" lengthAdjust="spacingAndGlyphs">sC18</tspan><tspan font-size="5.0" dy="-2.8" dx="0.5">ΔE</tspan></text>
<rect x="183.80" y="374.5" width="8.4" height="7.6" fill="#70e2f4" stroke="#1ec6e6" stroke-width="0.9"/>
<text x="195.00" y="381.9" font-size="7.4" fill="#333"><tspan textLength="17.5" lengthAdjust="spacingAndGlyphs">sC18</tspan></text>
<rect x="220.50" y="374.5" width="8.4" height="7.6" fill="#f7a0a7" stroke="#ee4858" stroke-width="0.9"/>
<text x="231.30" y="381.9" font-size="7.4" fill="#333"><tspan textLength="18.2" lengthAdjust="spacingAndGlyphs">CTRL</tspan></text>
<text x="332.80" y="295.00" font-size="8.6" font-weight="bold" stroke="#111" stroke-width="0.3" text-anchor="start" fill="#111" textLength="56.5" lengthAdjust="spacingAndGlyphs" >3D cell culture</text>
<defs><radialGradient id="cg" cx="0.45" cy="0.42" r="0.6"><stop offset="0" stop-color="#ffffff"/><stop offset="0.6" stop-color="#f6f6f6"/><stop offset="1" stop-color="#d4d4d4"/></radialGradient></defs>
<clipPath id="clL"><rect x="290" y="290" width="70.3" height="160"/></clipPath>
<clipPath id="clR"><rect x="360.3" y="290" width="80.7" height="160"/></clipPath>
<path d="M360.3,312.0 L372.0,310.0 L385.0,318.0 L395.0,335.0 L400.0,360.0 L400.0,390.0 L393.0,410.0 L380.0,422.0 L360.3,425.0 Z" fill="#d6e3f6"/>
<circle cx="358.5" cy="366.5" r="50" fill="#dde6f4" clip-path="url(#clL)"/>
<g clip-path="url(#clL)">
<ellipse cx="360.22" cy="318.28" rx="4.62" ry="3.81" transform="rotate(151 360.22 318.28)" fill="url(#cg)" stroke="#a2a2a2" stroke-width="0.85"/>
<circle cx="360.44" cy="318.75" r="1.75" fill="#d9e1ef" stroke="#869dc6" stroke-width="0.95"/>
<ellipse cx="344.22" cy="321.22" rx="4.38" ry="4.00" transform="rotate(142 344.22 321.22)" fill="url(#cg)" stroke="#a2a2a2" stroke-width="0.85"/>
<circle cx="344.65" cy="321.15" r="1.75" fill="#d9e1ef" stroke="#869dc6" stroke-width="0.95"/>
<ellipse cx="350.32" cy="323.18" rx="4.76" ry="4.27" transform="rotate(131 350.32 323.18)" fill="url(#cg)" stroke="#a2a2a2" stroke-width="0.85"/>
<circle cx="350.56" cy="322.70" r="1.75" fill="#d9e1ef" stroke="#869dc6" stroke-width="0.95"/>
<ellipse cx="363.92" cy="323.54" rx="4.24" ry="4.38" transform="rotate(162 363.92 323.54)" fill="url(#cg)" stroke="#a2a2a2" stroke-width="0.85"/>
<circle cx="363.82" cy="323.64" r="1.75" fill="#d9e1ef" stroke="#869dc6" stroke-width="0.95"/>
<ellipse cx="336.48" cy="327.80" rx="4.28" ry="4.07" transform="rotate(115 336.48 327.80)" fill="url(#cg)" stroke="#a2a2a2" stroke-width="0.85"/>
<circle cx="336.33" cy="327.86" r="1.75" fill="#d9e1ef" stroke="#869dc6" stroke-width="0.95"/>
<ellipse cx="343.68" cy="327.84" rx="4.56" ry="4.31" transform="rotate(104 343.68 327.84)" fill="url(#cg)" stroke="#a2a2a2" stroke-width="0.85"/>
<circle cx="344.09" cy="327.98" r="1.75" fill="#d9e1ef" stroke="#869dc6" stroke-width="0.95"/>
<ellipse cx="326.76" cy="329.49" rx="4.45" ry="4.51" transform="rotate(4 326.76 329.49)" fill="url(#cg)" stroke="#a2a2a2" stroke-width="0.85"/>
<circle cx="326.61" cy="328.90" r="1.75" fill="#d9e1ef" stroke="#869dc6" stroke-width="0.95"/>
<ellipse cx="357.66" cy="329.67" rx="4.77" ry="4.26" transform="rotate(26 357.66 329.67)" fill="url(#cg)" stroke="#a2a2a2" stroke-width="0.85"/>
<circle cx="357.82" cy="330.36" r="1.75" fill="#d9e1ef" stroke="#869dc6" stroke-width="0.95"/>
<ellipse cx="352.38" cy="333.36" rx="4.55" ry="4.78" transform="rotate(98 352.38 333.36)" fill="url(#cg)" stroke="#a2a2a2" stroke-width="0.85"/>
<circle cx="352.27" cy="333.06" r="1.9" fill="#d9e1ef" stroke="#869dc6" stroke-width="0.95"/>
<ellipse cx="321.94" cy="334.63" rx="4.37" ry="4.40" transform="rotate(67 321.94 334.63)" fill="url(#cg)" stroke="#a2a2a2" stroke-width="0.85"/>
<circle cx="321.88" cy="334.67" r="1.75" fill="#d9e1ef" stroke="#869dc6" stroke-width="0.95"/>
<ellipse cx="338.51" cy="334.66" rx="4.90" ry="4.32" transform="rotate(166 338.51 334.66)" fill="url(#cg)" stroke="#a2a2a2" stroke-width="0.85"/>
<circle cx="338.51" cy="334.95" r="1.75" fill="#d9e1ef" stroke="#869dc6" stroke-width="0.95"/>
<ellipse cx="331.56" cy="334.76" rx="4.78" ry="4.17" transform="rotate(144 331.56 334.76)" fill="url(#cg)" stroke="#a2a2a2" stroke-width="0.85"/>
<circle cx="331.46" cy="334.83" r="1.75" fill="#d9e1ef" stroke="#869dc6" stroke-width="0.95"/>
<ellipse cx="346.28" cy="335.33" rx="4.48" ry="4.05" transform="rotate(154 346.28 335.33)" fill="url(#cg)" stroke="#a2a2a2" stroke-width="0.85"/>
<circle cx="346.60" cy="335.81" r="1.75" fill="#d9e1ef" stroke="#869dc6" stroke-width="0.95"/>
<ellipse cx="363.43" cy="335.97" rx="4.29" ry="4.09" transform="rotate(122 363.43 335.97)" fill="url(#cg)" stroke="#a2a2a2" stroke-width="0.85"/>
<circle cx="362.99" cy="335.54" r="1.75" fill="#d9e1ef" stroke="#869dc6" stroke-width="0.95"/>
<ellipse cx="341.62" cy="340.63" rx="4.91" ry="4.41" transform="rotate(101 341.62 340.63)" fill="url(#cg)" stroke="#a2a2a2" stroke-width="0.85"/>
<circle cx="342.28" cy="341.29" r="1.9" fill="#d9e1ef" stroke="#869dc6" stroke-width="0.95"/>
<ellipse cx="333.04" cy="341.36" rx="5.02" ry="4.48" transform="rotate(47 333.04 341.36)" fill="url(#cg)" stroke="#a2a2a2" stroke-width="0.85"/>
<circle cx="333.60" cy="341.65" r="1.75" fill="#d9e1ef" stroke="#869dc6" stroke-width="0.95"/>
<ellipse cx="326.49" cy="341.87" rx="4.75" ry="4.70" transform="rotate(162 326.49 341.87)" fill="url(#cg)" stroke="#a2a2a2" stroke-width="0.85"/>
<circle cx="326.55" cy="341.72" r="1.75" fill="#d9e1ef" stroke="#869dc6" stroke-width="0.95"/>
<ellipse cx="356.39" cy="342.34" rx="5.28" ry="4.27" transform="rotate(50 356.39 342.34)" fill="url(#cg)" stroke="#a2a2a2" stroke-width="0.85"/>
<circle cx="356.07" cy="342.76" r="1.9" fill="#d9e1ef" stroke="#869dc6" stroke-width="0.95"/>
<ellipse cx="349.05" cy="343.11" rx="4.80" ry="4.53" transform="rotate(119 349.05 343.11)" fill="url(#cg)" stroke="#a2a2a2" stroke-width="0.85"/>
<circle cx="349.31" cy="342.47" r="1.75" fill="#d9e1ef" stroke="#869dc6" stroke-width="0.95"/>
<ellipse cx="319.89" cy="343.56" rx="4.72" ry="4.30" transform="rotate(155 319.89 343.56)" fill="url(#cg)" stroke="#a2a2a2" stroke-width="0.85"/>
<circle cx="320.06" cy="344.13" r="1.9" fill="#d9e1ef" stroke="#869dc6" stroke-width="0.95"/>
<ellipse cx="363.62" cy="344.85" rx="4.38" ry="3.86" transform="rotate(27 363.62 344.85)" fill="url(#cg)" stroke="#a2a2a2" stroke-width="0.85"/>
<circle cx="363.09" cy="345.50" r="1.75" fill="#d9e1ef" stroke="#869dc6" stroke-width="0.95"/>
<ellipse cx="338.11" cy="346.28" rx="4.39" ry="4.07" transform="rotate(112 338.11 346.28)" fill="url(#cg)" stroke="#a2a2a2" stroke-width="0.85"/>
<circle cx="337.67" cy="346.60" r="1.75" fill="#d9e1ef" stroke="#869dc6" stroke-width="0.95"/>
<ellipse cx="326.60" cy="348.37" rx="4.76" ry="4.20" transform="rotate(115 326.60 348.37)" fill="url(#cg)" stroke="#a2a2a2" stroke-width="0.85"/>
<circle cx="326.90" cy="349.06" r="1.75" fill="#d9e1ef" stroke="#869dc6" stroke-width="0.95"/>
<ellipse cx="343.82" cy="350.84" rx="4.32" ry="3.87" transform="rotate(16 343.82 350.84)" fill="url(#cg)" stroke="#a2a2a2" stroke-width="0.85"/>
<circle cx="343.16" cy="351.06" r="1.75" fill="#d9e1ef" stroke="#869dc6" stroke-width="0.95"/>
<ellipse cx="353.27" cy="351.11" rx="4.41" ry="4.40" transform="rotate(89 353.27 351.11)" fill="url(#cg)" stroke="#a2a2a2" stroke-width="0.85"/>
<circle cx="352.60" cy="350.65" r="1.75" fill="#d9e1ef" stroke="#869dc6" stroke-width="0.95"/>
<ellipse cx="333.99" cy="351.33" rx="4.72" ry="4.17" transform="rotate(157 333.99 351.33)" fill="url(#cg)" stroke="#a2a2a2" stroke-width="0.85"/>
<circle cx="333.36" cy="351.49" r="1.75" fill="#d9e1ef" stroke="#869dc6" stroke-width="0.95"/>
<ellipse cx="318.10" cy="351.60" rx="4.90" ry="4.16" transform="rotate(71 318.10 351.60)" fill="url(#cg)" stroke="#a2a2a2" stroke-width="0.85"/>
<circle cx="317.56" cy="351.27" r="1.75" fill="#d9e1ef" stroke="#869dc6" stroke-width="0.95"/>
<ellipse cx="360.08" cy="351.85" rx="4.31" ry="4.19" transform="rotate(2 360.08 351.85)" fill="url(#cg)" stroke="#a2a2a2" stroke-width="0.85"/>
<circle cx="359.71" cy="351.93" r="1.75" fill="#d9e1ef" stroke="#869dc6" stroke-width="0.95"/>
<ellipse cx="324.22" cy="356.10" rx="5.21" ry="4.69" transform="rotate(135 324.22 356.10)" fill="url(#cg)" stroke="#a2a2a2" stroke-width="0.85"/>
<circle cx="324.38" cy="355.81" r="1.75" fill="#d9e1ef" stroke="#869dc6" stroke-width="0.95"/>
<ellipse cx="349.63" cy="357.52" rx="4.31" ry="4.42" transform="rotate(91 349.63 357.52)" fill="url(#cg)" stroke="#a2a2a2" stroke-width="0.85"/>
<circle cx="350.02" cy="356.93" r="1.75" fill="#d9e1ef" stroke="#869dc6" stroke-width="0.95"/>
<ellipse cx="342.57" cy="357.67" rx="4.64" ry="4.00" transform="rotate(164 342.57 357.67)" fill="url(#cg)" stroke="#a2a2a2" stroke-width="0.85"/>
<circle cx="342.25" cy="357.61" r="1.75" fill="#d9e1ef" stroke="#869dc6" stroke-width="0.95"/>
<ellipse cx="357.19" cy="357.82" rx="4.62" ry="4.09" transform="rotate(14 357.19 357.82)" fill="url(#cg)" stroke="#a2a2a2" stroke-width="0.85"/>
<circle cx="357.15" cy="358.33" r="1.75" fill="#d9e1ef" stroke="#869dc6" stroke-width="0.95"/>
<ellipse cx="310.75" cy="358.13" rx="4.47" ry="4.23" transform="rotate(85 310.75 358.13)" fill="url(#cg)" stroke="#a2a2a2" stroke-width="0.85"/>
<circle cx="310.68" cy="358.25" r="1.75" fill="#d9e1ef" stroke="#869dc6" stroke-width="0.95"/>
<ellipse cx="317.26" cy="360.31" rx="5.14" ry="4.12" transform="rotate(32 317.26 360.31)" fill="url(#cg)" stroke="#a2a2a2" stroke-width="0.85"/>
<circle cx="317.82" cy="359.77" r="1.75" fill="#d9e1ef" stroke="#869dc6" stroke-width="0.95"/>
<ellipse cx="333.27" cy="360.36" rx="4.03" ry="4.26" transform="rotate(68 333.27 360.36)" fill="url(#cg)" stroke="#a2a2a2" stroke-width="0.85"/>
<circle cx="332.85" cy="360.17" r="1.75" fill="#d9e1ef" stroke="#869dc6" stroke-width="0.95"/>
<ellipse cx="363.53" cy="361.22" rx="4.65" ry="4.38" transform="rotate(64 363.53 361.22)" fill="url(#cg)" stroke="#a2a2a2" stroke-width="0.85"/>
<circle cx="362.88" cy="361.10" r="1.75" fill="#d9e1ef" stroke="#869dc6" stroke-width="0.95"/>
<ellipse cx="339.76" cy="363.97" rx="4.46" ry="4.23" transform="rotate(36 339.76 363.97)" fill="url(#cg)" stroke="#a2a2a2" stroke-width="0.85"/>
<circle cx="339.65" cy="364.66" r="1.75" fill="#d9e1ef" stroke="#869dc6" stroke-width="0.95"/>
<ellipse cx="325.13" cy="364.10" rx="4.32" ry="3.75" transform="rotate(145 325.13 364.10)" fill="url(#cg)" stroke="#a2a2a2" stroke-width="0.85"/>
<circle cx="324.79" cy="364.07" r="1.75" fill="#d9e1ef" stroke="#869dc6" stroke-width="0.95"/>
<ellipse cx="352.04" cy="367.08" rx="4.63" ry="4.46" transform="rotate(47 352.04 367.08)" fill="url(#cg)" stroke="#a2a2a2" stroke-width="0.85"/>
<circle cx="352.40" cy="367.31" r="1.75" fill="#d9e1ef" stroke="#869dc6" stroke-width="0.95"/>
<ellipse cx="358.90" cy="367.47" rx="4.13" ry="4.05" transform="rotate(163 358.90 367.47)" fill="url(#cg)" stroke="#a2a2a2" stroke-width="0.85"/>
<circle cx="359.04" cy="367.05" r="1.75" fill="#d9e1ef" stroke="#869dc6" stroke-width="0.95"/>
<ellipse cx="329.81" cy="368.57" rx="4.63" ry="3.98" transform="rotate(53 329.81 368.57)" fill="url(#cg)" stroke="#a2a2a2" stroke-width="0.85"/>
<circle cx="330.11" cy="367.96" r="1.75" fill="#d9e1ef" stroke="#869dc6" stroke-width="0.95"/>
<ellipse cx="318.35" cy="369.34" rx="5.14" ry="4.56" transform="rotate(48 318.35 369.34)" fill="url(#cg)" stroke="#a2a2a2" stroke-width="0.85"/>
<circle cx="319.02" cy="369.76" r="1.75" fill="#d9e1ef" stroke="#869dc6" stroke-width="0.95"/>
<ellipse cx="336.33" cy="369.75" rx="4.76" ry="4.82" transform="rotate(131 336.33 369.75)" fill="url(#cg)" stroke="#a2a2a2" stroke-width="0.85"/>
<circle cx="336.44" cy="369.19" r="1.9" fill="#d9e1ef" stroke="#869dc6" stroke-width="0.95"/>
<ellipse cx="311.48" cy="370.23" rx="4.87" ry="4.54" transform="rotate(26 311.48 370.23)" fill="url(#cg)" stroke="#a2a2a2" stroke-width="0.85"/>
<circle cx="311.00" cy="370.41" r="1.75" fill="#d9e1ef" stroke="#869dc6" stroke-width="0.95"/>
<ellipse cx="345.35" cy="371.04" rx="4.53" ry="4.45" transform="rotate(156 345.35 371.04)" fill="url(#cg)" stroke="#a2a2a2" stroke-width="0.85"/>
<circle cx="345.19" cy="370.80" r="1.75" fill="#d9e1ef" stroke="#869dc6" stroke-width="0.95"/>
<ellipse cx="351.19" cy="374.13" rx="5.15" ry="4.24" transform="rotate(113 351.19 374.13)" fill="url(#cg)" stroke="#a2a2a2" stroke-width="0.85"/>
<circle cx="350.74" cy="374.09" r="1.75" fill="#d9e1ef" stroke="#869dc6" stroke-width="0.95"/>
<ellipse cx="327.94" cy="374.74" rx="4.25" ry="4.24" transform="rotate(103 327.94 374.74)" fill="url(#cg)" stroke="#a2a2a2" stroke-width="0.85"/>
<circle cx="328.61" cy="374.09" r="1.75" fill="#d9e1ef" stroke="#869dc6" stroke-width="0.95"/>
<ellipse cx="336.88" cy="376.95" rx="4.32" ry="4.56" transform="rotate(152 336.88 376.95)" fill="url(#cg)" stroke="#a2a2a2" stroke-width="0.85"/>
<circle cx="336.66" cy="377.28" r="1.75" fill="#d9e1ef" stroke="#869dc6" stroke-width="0.95"/>
<ellipse cx="345.44" cy="377.56" rx="4.48" ry="4.38" transform="rotate(79 345.44 377.56)" fill="url(#cg)" stroke="#a2a2a2" stroke-width="0.85"/>
<circle cx="345.95" cy="377.10" r="1.75" fill="#d9e1ef" stroke="#869dc6" stroke-width="0.95"/>
<ellipse cx="312.44" cy="377.71" rx="4.66" ry="3.90" transform="rotate(146 312.44 377.71)" fill="url(#cg)" stroke="#a2a2a2" stroke-width="0.85"/>
<circle cx="311.96" cy="377.20" r="1.75" fill="#d9e1ef" stroke="#869dc6" stroke-width="0.95"/>
<ellipse cx="360.30" cy="378.36" rx="4.52" ry="4.63" transform="rotate(68 360.30 378.36)" fill="url(#cg)" stroke="#a2a2a2" stroke-width="0.85"/>
<circle cx="359.90" cy="377.96" r="1.75" fill="#d9e1ef" stroke="#869dc6" stroke-width="0.95"/>
<ellipse cx="322.75" cy="379.74" rx="4.24" ry="4.11" transform="rotate(75 322.75 379.74)" fill="url(#cg)" stroke="#a2a2a2" stroke-width="0.85"/>
<circle cx="323.06" cy="379.39" r="1.75" fill="#d9e1ef" stroke="#869dc6" stroke-width="0.95"/>
<ellipse cx="353.92" cy="381.70" rx="4.32" ry="3.99" transform="rotate(131 353.92 381.70)" fill="url(#cg)" stroke="#a2a2a2" stroke-width="0.85"/>
<circle cx="353.35" cy="381.13" r="1.75" fill="#d9e1ef" stroke="#869dc6" stroke-width="0.95"/>
<ellipse cx="338.87" cy="383.11" rx="4.55" ry="4.48" transform="rotate(158 338.87 383.11)" fill="url(#cg)" stroke="#a2a2a2" stroke-width="0.85"/>
<circle cx="339.49" cy="383.27" r="1.9" fill="#d9e1ef" stroke="#869dc6" stroke-width="0.95"/>
<ellipse cx="332.47" cy="383.66" rx="4.71" ry="4.47" transform="rotate(107 332.47 383.66)" fill="url(#cg)" stroke="#a2a2a2" stroke-width="0.85"/>
<circle cx="333.14" cy="383.33" r="1.75" fill="#d9e1ef" stroke="#869dc6" stroke-width="0.95"/>
<ellipse cx="345.41" cy="385.44" rx="4.33" ry="3.89" transform="rotate(123 345.41 385.44)" fill="url(#cg)" stroke="#a2a2a2" stroke-width="0.85"/>
<circle cx="345.91" cy="385.59" r="1.75" fill="#d9e1ef" stroke="#869dc6" stroke-width="0.95"/>
<ellipse cx="361.38" cy="386.39" rx="4.21" ry="4.36" transform="rotate(93 361.38 386.39)" fill="url(#cg)" stroke="#a2a2a2" stroke-width="0.85"/>
<circle cx="360.74" cy="386.56" r="1.75" fill="#d9e1ef" stroke="#869dc6" stroke-width="0.95"/>
<ellipse cx="314.68" cy="387.85" rx="4.58" ry="4.08" transform="rotate(38 314.68 387.85)" fill="url(#cg)" stroke="#a2a2a2" stroke-width="0.85"/>
<circle cx="315.05" cy="388.00" r="1.75" fill="#d9e1ef" stroke="#869dc6" stroke-width="0.95"/>
<ellipse cx="335.00" cy="389.94" rx="4.20" ry="3.96" transform="rotate(57 335.00 389.94)" fill="url(#cg)" stroke="#a2a2a2" stroke-width="0.85"/>
<circle cx="334.92" cy="390.45" r="1.75" fill="#d9e1ef" stroke="#869dc6" stroke-width="0.95"/>
<ellipse cx="325.56" cy="389.95" rx="5.12" ry="4.71" transform="rotate(166 325.56 389.95)" fill="url(#cg)" stroke="#a2a2a2" stroke-width="0.85"/>
<circle cx="326.09" cy="390.63" r="1.75" fill="#d9e1ef" stroke="#869dc6" stroke-width="0.95"/>
<ellipse cx="352.83" cy="392.49" rx="4.18" ry="3.81" transform="rotate(166 352.83 392.49)" fill="url(#cg)" stroke="#a2a2a2" stroke-width="0.85"/>
<circle cx="353.27" cy="392.43" r="1.75" fill="#d9e1ef" stroke="#869dc6" stroke-width="0.95"/>
<ellipse cx="363.91" cy="392.71" rx="4.50" ry="4.00" transform="rotate(29 363.91 392.71)" fill="url(#cg)" stroke="#a2a2a2" stroke-width="0.85"/>
<circle cx="364.35" cy="392.96" r="1.75" fill="#d9e1ef" stroke="#869dc6" stroke-width="0.95"/>
<ellipse cx="345.75" cy="394.80" rx="4.67" ry="4.24" transform="rotate(72 345.75 394.80)" fill="url(#cg)" stroke="#a2a2a2" stroke-width="0.85"/>
<circle cx="345.42" cy="394.96" r="1.75" fill="#d9e1ef" stroke="#869dc6" stroke-width="0.95"/>
<ellipse cx="320.10" cy="396.00" rx="4.46" ry="4.04" transform="rotate(83 320.10 396.00)" fill="url(#cg)" stroke="#a2a2a2" stroke-width="0.85"/>
<circle cx="320.57" cy="396.46" r="1.75" fill="#d9e1ef" stroke="#869dc6" stroke-width="0.95"/>
<ellipse cx="335.45" cy="396.70" rx="4.51" ry="4.06" transform="rotate(175 335.45 396.70)" fill="url(#cg)" stroke="#a2a2a2" stroke-width="0.85"/>
<circle cx="336.03" cy="396.78" r="1.75" fill="#d9e1ef" stroke="#869dc6" stroke-width="0.95"/>
<ellipse cx="358.06" cy="398.03" rx="4.78" ry="4.44" transform="rotate(112 358.06 398.03)" fill="url(#cg)" stroke="#a2a2a2" stroke-width="0.85"/>
<circle cx="358.24" cy="398.08" r="1.75" fill="#d9e1ef" stroke="#869dc6" stroke-width="0.95"/>
<ellipse cx="325.02" cy="400.41" rx="4.29" ry="3.93" transform="rotate(32 325.02 400.41)" fill="url(#cg)" stroke="#a2a2a2" stroke-width="0.85"/>
<circle cx="325.59" cy="400.69" r="1.75" fill="#d9e1ef" stroke="#869dc6" stroke-width="0.95"/>
<ellipse cx="349.23" cy="403.46" rx="4.68" ry="4.06" transform="rotate(170 349.23 403.46)" fill="url(#cg)" stroke="#a2a2a2" stroke-width="0.85"/>
<circle cx="349.40" cy="402.89" r="1.75" fill="#d9e1ef" stroke="#869dc6" stroke-width="0.95"/>
<ellipse cx="340.39" cy="403.87" rx="4.49" ry="4.23" transform="rotate(36 340.39 403.87)" fill="url(#cg)" stroke="#a2a2a2" stroke-width="0.85"/>
<circle cx="340.95" cy="404.01" r="1.75" fill="#d9e1ef" stroke="#869dc6" stroke-width="0.95"/>
<ellipse cx="331.58" cy="405.18" rx="4.47" ry="4.48" transform="rotate(160 331.58 405.18)" fill="url(#cg)" stroke="#a2a2a2" stroke-width="0.85"/>
<circle cx="332.27" cy="405.74" r="1.75" fill="#d9e1ef" stroke="#869dc6" stroke-width="0.95"/>
<ellipse cx="361.88" cy="405.95" rx="4.93" ry="4.33" transform="rotate(134 361.88 405.95)" fill="url(#cg)" stroke="#a2a2a2" stroke-width="0.85"/>
<circle cx="361.70" cy="406.31" r="1.75" fill="#d9e1ef" stroke="#869dc6" stroke-width="0.95"/>
<ellipse cx="357.85" cy="411.25" rx="4.62" ry="3.97" transform="rotate(96 357.85 411.25)" fill="url(#cg)" stroke="#a2a2a2" stroke-width="0.85"/>
<circle cx="357.95" cy="411.27" r="1.75" fill="#d9e1ef" stroke="#869dc6" stroke-width="0.95"/>
<ellipse cx="341.76" cy="411.29" rx="4.56" ry="4.64" transform="rotate(141 341.76 411.29)" fill="url(#cg)" stroke="#a2a2a2" stroke-width="0.85"/>
<circle cx="342.41" cy="411.55" r="1.75" fill="#d9e1ef" stroke="#869dc6" stroke-width="0.95"/>
<ellipse cx="348.91" cy="411.41" rx="4.28" ry="3.93" transform="rotate(87 348.91 411.41)" fill="url(#cg)" stroke="#a2a2a2" stroke-width="0.85"/>
<circle cx="349.52" cy="411.19" r="1.75" fill="#d9e1ef" stroke="#869dc6" stroke-width="0.95"/>
</g>
<g clip-path="url(#clR)">
<ellipse cx="361.17" cy="305.69" rx="4.61" ry="4.42" transform="rotate(96 361.17 305.69)" fill="url(#cg)" stroke="#a2a2a2" stroke-width="0.85"/>
<circle cx="361.62" cy="306.08" r="1.75" fill="#d9e1ef" stroke="#869dc6" stroke-width="0.95"/>
<ellipse cx="376.76" cy="305.88" rx="4.89" ry="4.60" transform="rotate(120 376.76 305.88)" fill="url(#cg)" stroke="#a2a2a2" stroke-width="0.85"/>
<circle cx="376.18" cy="306.40" r="1.9" fill="#d9e1ef" stroke="#869dc6" stroke-width="0.95"/>
<ellipse cx="384.43" cy="309.00" rx="5.01" ry="5.06" transform="rotate(44 384.43 309.00)" fill="url(#cg)" stroke="#a2a2a2" stroke-width="0.85"/>
<circle cx="385.13" cy="308.41" r="1.9" fill="#d9e1ef" stroke="#869dc6" stroke-width="0.95"/>
<ellipse cx="365.06" cy="312.85" rx="4.55" ry="4.71" transform="rotate(88 365.06 312.85)" fill="url(#cg)" stroke="#a2a2a2" stroke-width="0.85"/>
<circle cx="365.21" cy="312.51" r="1.75" fill="#d9e1ef" stroke="#869dc6" stroke-width="0.95"/>
<ellipse cx="382.38" cy="316.71" rx="4.80" ry="4.31" transform="rotate(15 382.38 316.71)" fill="url(#cg)" stroke="#a2a2a2" stroke-width="0.85"/>
<circle cx="382.89" cy="317.35" r="1.9" fill="#d9e1ef" stroke="#869dc6" stroke-width="0.95"/>
<ellipse cx="394.82" cy="317.26" rx="5.00" ry="4.49" transform="rotate(39 394.82 317.26)" fill="url(#cg)" stroke="#a2a2a2" stroke-width="0.85"/>
<circle cx="394.36" cy="317.02" r="1.9" fill="#d9e1ef" stroke="#869dc6" stroke-width="0.95"/>
<ellipse cx="374.11" cy="318.26" rx="4.94" ry="4.58" transform="rotate(70 374.11 318.26)" fill="url(#cg)" stroke="#a2a2a2" stroke-width="0.85"/>
<circle cx="373.77" cy="318.03" r="1.9" fill="#d9e1ef" stroke="#869dc6" stroke-width="0.95"/>
<ellipse cx="388.69" cy="322.32" rx="4.47" ry="4.28" transform="rotate(46 388.69 322.32)" fill="url(#cg)" stroke="#a2a2a2" stroke-width="0.85"/>
<circle cx="388.60" cy="323.00" r="1.75" fill="#d9e1ef" stroke="#869dc6" stroke-width="0.95"/>
<ellipse cx="400.25" cy="324.48" rx="5.36" ry="5.05" transform="rotate(109 400.25 324.48)" fill="url(#cg)" stroke="#a2a2a2" stroke-width="0.85"/>
<circle cx="400.25" cy="324.82" r="1.9" fill="#d9e1ef" stroke="#869dc6" stroke-width="0.95"/>
<ellipse cx="361.92" cy="324.80" rx="4.97" ry="4.15" transform="rotate(98 361.92 324.80)" fill="url(#cg)" stroke="#a2a2a2" stroke-width="0.85"/>
<circle cx="361.26" cy="324.78" r="1.75" fill="#d9e1ef" stroke="#869dc6" stroke-width="0.95"/>
<ellipse cx="413.80" cy="324.89" rx="4.82" ry="4.71" transform="rotate(80 413.80 324.89)" fill="url(#cg)" stroke="#a2a2a2" stroke-width="0.85"/>
<circle cx="413.39" cy="324.71" r="1.9" fill="#d9e1ef" stroke="#869dc6" stroke-width="0.95"/>
<ellipse cx="369.77" cy="325.26" rx="5.66" ry="4.57" transform="rotate(85 369.77 325.26)" fill="url(#cg)" stroke="#a2a2a2" stroke-width="0.85"/>
<circle cx="369.28" cy="325.81" r="1.9" fill="#d9e1ef" stroke="#869dc6" stroke-width="0.95"/>
<ellipse cx="381.00" cy="325.59" rx="5.08" ry="4.48" transform="rotate(136 381.00 325.59)" fill="url(#cg)" stroke="#a2a2a2" stroke-width="0.85"/>
<circle cx="380.39" cy="324.89" r="1.9" fill="#d9e1ef" stroke="#869dc6" stroke-width="0.95"/>
<ellipse cx="386.94" cy="330.78" rx="5.29" ry="4.53" transform="rotate(73 386.94 330.78)" fill="url(#cg)" stroke="#a2a2a2" stroke-width="0.85"/>
<circle cx="386.50" cy="330.88" r="1.9" fill="#d9e1ef" stroke="#869dc6" stroke-width="0.95"/>
<ellipse cx="408.11" cy="331.01" rx="5.22" ry="4.58" transform="rotate(49 408.11 331.01)" fill="url(#cg)" stroke="#a2a2a2" stroke-width="0.85"/>
<circle cx="408.57" cy="330.50" r="1.9" fill="#d9e1ef" stroke="#869dc6" stroke-width="0.95"/>
<ellipse cx="365.34" cy="331.80" rx="4.84" ry="4.47" transform="rotate(179 365.34 331.80)" fill="url(#cg)" stroke="#a2a2a2" stroke-width="0.85"/>
<circle cx="365.15" cy="332.39" r="1.9" fill="#d9e1ef" stroke="#869dc6" stroke-width="0.95"/>
<ellipse cx="373.29" cy="332.83" rx="5.13" ry="4.80" transform="rotate(41 373.29 332.83)" fill="url(#cg)" stroke="#a2a2a2" stroke-width="0.85"/>
<circle cx="373.09" cy="332.59" r="1.9" fill="#d9e1ef" stroke="#869dc6" stroke-width="0.95"/>
<ellipse cx="393.66" cy="335.01" rx="5.10" ry="4.49" transform="rotate(70 393.66 335.01)" fill="url(#cg)" stroke="#a2a2a2" stroke-width="0.85"/>
<circle cx="393.90" cy="334.55" r="1.9" fill="#d9e1ef" stroke="#869dc6" stroke-width="0.95"/>
<ellipse cx="414.47" cy="335.10" rx="5.59" ry="5.17" transform="rotate(35 414.47 335.10)" fill="url(#cg)" stroke="#a2a2a2" stroke-width="0.85"/>
<circle cx="414.33" cy="334.65" r="1.9" fill="#d9e1ef" stroke="#869dc6" stroke-width="0.95"/>
<ellipse cx="381.49" cy="336.39" rx="5.50" ry="4.92" transform="rotate(144 381.49 336.39)" fill="url(#cg)" stroke="#a2a2a2" stroke-width="0.85"/>
<circle cx="381.40" cy="336.82" r="1.9" fill="#d9e1ef" stroke="#869dc6" stroke-width="0.95"/>
<ellipse cx="361.98" cy="338.55" rx="4.58" ry="4.71" transform="rotate(120 361.98 338.55)" fill="url(#cg)" stroke="#a2a2a2" stroke-width="0.85"/>
<circle cx="362.66" cy="338.93" r="1.75" fill="#d9e1ef" stroke="#869dc6" stroke-width="0.95"/>
<ellipse cx="407.76" cy="338.75" rx="5.28" ry="4.82" transform="rotate(162 407.76 338.75)" fill="url(#cg)" stroke="#a2a2a2" stroke-width="0.85"/>
<circle cx="408.33" cy="339.08" r="1.9" fill="#d9e1ef" stroke="#869dc6" stroke-width="0.95"/>
<ellipse cx="371.86" cy="340.55" rx="4.62" ry="4.75" transform="rotate(155 371.86 340.55)" fill="url(#cg)" stroke="#a2a2a2" stroke-width="0.85"/>
<circle cx="371.87" cy="341.15" r="1.9" fill="#d9e1ef" stroke="#869dc6" stroke-width="0.95"/>
<ellipse cx="413.52" cy="344.36" rx="5.20" ry="4.77" transform="rotate(85 413.52 344.36)" fill="url(#cg)" stroke="#a2a2a2" stroke-width="0.85"/>
<circle cx="413.24" cy="344.79" r="1.9" fill="#d9e1ef" stroke="#869dc6" stroke-width="0.95"/>
<ellipse cx="400.12" cy="344.54" rx="5.41" ry="4.76" transform="rotate(86 400.12 344.54)" fill="url(#cg)" stroke="#a2a2a2" stroke-width="0.85"/>
<circle cx="399.54" cy="343.98" r="1.9" fill="#d9e1ef" stroke="#869dc6" stroke-width="0.95"/>
<ellipse cx="389.64" cy="345.93" rx="4.88" ry="4.97" transform="rotate(34 389.64 345.93)" fill="url(#cg)" stroke="#a2a2a2" stroke-width="0.85"/>
<circle cx="390.21" cy="345.85" r="1.9" fill="#d9e1ef" stroke="#869dc6" stroke-width="0.95"/>
<ellipse cx="363.20" cy="346.85" rx="5.03" ry="5.01" transform="rotate(90 363.20 346.85)" fill="url(#cg)" stroke="#a2a2a2" stroke-width="0.85"/>
<circle cx="362.79" cy="346.29" r="1.9" fill="#d9e1ef" stroke="#869dc6" stroke-width="0.95"/>
<ellipse cx="378.92" cy="348.87" rx="5.05" ry="4.53" transform="rotate(174 378.92 348.87)" fill="url(#cg)" stroke="#a2a2a2" stroke-width="0.85"/>
<circle cx="378.36" cy="349.57" r="1.9" fill="#d9e1ef" stroke="#869dc6" stroke-width="0.95"/>
<ellipse cx="370.51" cy="349.19" rx="5.75" ry="5.08" transform="rotate(158 370.51 349.19)" fill="url(#cg)" stroke="#a2a2a2" stroke-width="0.85"/>
<circle cx="370.73" cy="349.42" r="1.9" fill="#d9e1ef" stroke="#869dc6" stroke-width="0.95"/>
<ellipse cx="418.60" cy="350.84" rx="5.29" ry="4.78" transform="rotate(60 418.60 350.84)" fill="url(#cg)" stroke="#a2a2a2" stroke-width="0.85"/>
<circle cx="419.07" cy="350.40" r="1.9" fill="#d9e1ef" stroke="#869dc6" stroke-width="0.95"/>
<ellipse cx="385.51" cy="352.79" rx="5.37" ry="5.05" transform="rotate(9 385.51 352.79)" fill="url(#cg)" stroke="#a2a2a2" stroke-width="0.85"/>
<circle cx="386.05" cy="352.53" r="1.9" fill="#d9e1ef" stroke="#869dc6" stroke-width="0.95"/>
<ellipse cx="403.82" cy="353.45" rx="5.48" ry="5.22" transform="rotate(124 403.82 353.45)" fill="url(#cg)" stroke="#a2a2a2" stroke-width="0.85"/>
<circle cx="404.01" cy="353.85" r="1.9" fill="#d9e1ef" stroke="#869dc6" stroke-width="0.95"/>
<ellipse cx="396.38" cy="354.79" rx="5.22" ry="5.05" transform="rotate(54 396.38 354.79)" fill="url(#cg)" stroke="#a2a2a2" stroke-width="0.85"/>
<circle cx="396.23" cy="354.56" r="1.9" fill="#d9e1ef" stroke="#869dc6" stroke-width="0.95"/>
<ellipse cx="374.96" cy="355.49" rx="5.48" ry="4.64" transform="rotate(44 374.96 355.49)" fill="url(#cg)" stroke="#a2a2a2" stroke-width="0.85"/>
<circle cx="375.39" cy="355.51" r="1.9" fill="#d9e1ef" stroke="#869dc6" stroke-width="0.95"/>
<ellipse cx="367.24" cy="357.22" rx="4.83" ry="4.86" transform="rotate(96 367.24 357.22)" fill="url(#cg)" stroke="#a2a2a2" stroke-width="0.85"/>
<circle cx="366.60" cy="357.59" r="1.9" fill="#d9e1ef" stroke="#869dc6" stroke-width="0.95"/>
<ellipse cx="411.97" cy="358.98" rx="5.23" ry="4.87" transform="rotate(45 411.97 358.98)" fill="url(#cg)" stroke="#a2a2a2" stroke-width="0.85"/>
<circle cx="412.31" cy="358.68" r="1.9" fill="#d9e1ef" stroke="#869dc6" stroke-width="0.95"/>
<ellipse cx="422.17" cy="359.02" rx="5.44" ry="5.23" transform="rotate(27 422.17 359.02)" fill="url(#cg)" stroke="#a2a2a2" stroke-width="0.85"/>
<circle cx="422.33" cy="359.68" r="1.9" fill="#d9e1ef" stroke="#869dc6" stroke-width="0.95"/>
<ellipse cx="389.90" cy="359.23" rx="4.99" ry="4.81" transform="rotate(129 389.90 359.23)" fill="url(#cg)" stroke="#a2a2a2" stroke-width="0.85"/>
<circle cx="390.24" cy="359.28" r="1.9" fill="#d9e1ef" stroke="#869dc6" stroke-width="0.95"/>
<ellipse cx="381.78" cy="360.78" rx="5.00" ry="4.39" transform="rotate(161 381.78 360.78)" fill="url(#cg)" stroke="#a2a2a2" stroke-width="0.85"/>
<circle cx="381.14" cy="360.47" r="1.9" fill="#d9e1ef" stroke="#869dc6" stroke-width="0.95"/>
<ellipse cx="362.69" cy="363.55" rx="4.54" ry="4.69" transform="rotate(177 362.69 363.55)" fill="url(#cg)" stroke="#a2a2a2" stroke-width="0.85"/>
<circle cx="362.21" cy="363.50" r="1.9" fill="#d9e1ef" stroke="#869dc6" stroke-width="0.95"/>
<ellipse cx="369.95" cy="365.61" rx="5.63" ry="5.18" transform="rotate(28 369.95 365.61)" fill="url(#cg)" stroke="#a2a2a2" stroke-width="0.85"/>
<circle cx="370.15" cy="365.43" r="1.9" fill="#d9e1ef" stroke="#869dc6" stroke-width="0.95"/>
<ellipse cx="402.44" cy="367.08" rx="5.35" ry="4.77" transform="rotate(8 402.44 367.08)" fill="url(#cg)" stroke="#a2a2a2" stroke-width="0.85"/>
<circle cx="402.52" cy="366.58" r="1.9" fill="#d9e1ef" stroke="#869dc6" stroke-width="0.95"/>
<ellipse cx="390.78" cy="367.91" rx="5.55" ry="4.58" transform="rotate(123 390.78 367.91)" fill="url(#cg)" stroke="#a2a2a2" stroke-width="0.85"/>
<circle cx="390.31" cy="367.89" r="1.9" fill="#d9e1ef" stroke="#869dc6" stroke-width="0.95"/>
<ellipse cx="421.32" cy="368.43" rx="5.16" ry="4.82" transform="rotate(6 421.32 368.43)" fill="url(#cg)" stroke="#a2a2a2" stroke-width="0.85"/>
<circle cx="421.36" cy="368.12" r="1.9" fill="#d9e1ef" stroke="#869dc6" stroke-width="0.95"/>
<ellipse cx="377.06" cy="371.44" rx="5.35" ry="4.88" transform="rotate(17 377.06 371.44)" fill="url(#cg)" stroke="#a2a2a2" stroke-width="0.85"/>
<circle cx="376.42" cy="371.05" r="1.9" fill="#d9e1ef" stroke="#869dc6" stroke-width="0.95"/>
<ellipse cx="411.66" cy="371.56" rx="4.87" ry="4.30" transform="rotate(7 411.66 371.56)" fill="url(#cg)" stroke="#a2a2a2" stroke-width="0.85"/>
<circle cx="411.36" cy="371.86" r="1.9" fill="#d9e1ef" stroke="#869dc6" stroke-width="0.95"/>
<ellipse cx="363.01" cy="372.10" rx="5.40" ry="4.44" transform="rotate(105 363.01 372.10)" fill="url(#cg)" stroke="#a2a2a2" stroke-width="0.85"/>
<circle cx="362.79" cy="372.31" r="1.9" fill="#d9e1ef" stroke="#869dc6" stroke-width="0.95"/>
<ellipse cx="398.59" cy="374.62" rx="4.91" ry="4.63" transform="rotate(68 398.59 374.62)" fill="url(#cg)" stroke="#a2a2a2" stroke-width="0.85"/>
<circle cx="399.04" cy="375.20" r="1.9" fill="#d9e1ef" stroke="#869dc6" stroke-width="0.95"/>
<ellipse cx="386.50" cy="375.94" rx="5.17" ry="4.37" transform="rotate(12 386.50 375.94)" fill="url(#cg)" stroke="#a2a2a2" stroke-width="0.85"/>
<circle cx="386.67" cy="376.36" r="1.9" fill="#d9e1ef" stroke="#869dc6" stroke-width="0.95"/>
<ellipse cx="424.42" cy="376.59" rx="4.96" ry="4.99" transform="rotate(19 424.42 376.59)" fill="url(#cg)" stroke="#a2a2a2" stroke-width="0.85"/>
<circle cx="424.75" cy="377.24" r="1.9" fill="#d9e1ef" stroke="#869dc6" stroke-width="0.95"/>
<ellipse cx="371.54" cy="376.90" rx="4.80" ry="4.38" transform="rotate(171 371.54 376.90)" fill="url(#cg)" stroke="#a2a2a2" stroke-width="0.85"/>
<circle cx="371.33" cy="376.76" r="1.9" fill="#d9e1ef" stroke="#869dc6" stroke-width="0.95"/>
<ellipse cx="407.01" cy="377.96" rx="4.80" ry="4.59" transform="rotate(28 407.01 377.96)" fill="url(#cg)" stroke="#a2a2a2" stroke-width="0.85"/>
<circle cx="406.43" cy="377.91" r="1.9" fill="#d9e1ef" stroke="#869dc6" stroke-width="0.95"/>
<ellipse cx="417.66" cy="381.78" rx="5.23" ry="4.63" transform="rotate(85 417.66 381.78)" fill="url(#cg)" stroke="#a2a2a2" stroke-width="0.85"/>
<circle cx="417.70" cy="381.62" r="1.9" fill="#d9e1ef" stroke="#869dc6" stroke-width="0.95"/>
<ellipse cx="376.00" cy="383.46" rx="5.21" ry="4.93" transform="rotate(122 376.00 383.46)" fill="url(#cg)" stroke="#a2a2a2" stroke-width="0.85"/>
<circle cx="375.50" cy="383.61" r="1.9" fill="#d9e1ef" stroke="#869dc6" stroke-width="0.95"/>
<ellipse cx="393.93" cy="385.02" rx="5.14" ry="5.29" transform="rotate(174 393.93 385.02)" fill="url(#cg)" stroke="#a2a2a2" stroke-width="0.85"/>
<circle cx="394.57" cy="385.18" r="1.9" fill="#d9e1ef" stroke="#869dc6" stroke-width="0.95"/>
<ellipse cx="361.85" cy="385.05" rx="4.79" ry="4.28" transform="rotate(140 361.85 385.05)" fill="url(#cg)" stroke="#a2a2a2" stroke-width="0.85"/>
<circle cx="362.00" cy="385.18" r="1.75" fill="#d9e1ef" stroke="#869dc6" stroke-width="0.95"/>
<ellipse cx="384.46" cy="385.22" rx="4.60" ry="4.53" transform="rotate(4 384.46 385.22)" fill="url(#cg)" stroke="#a2a2a2" stroke-width="0.85"/>
<circle cx="385.14" cy="385.01" r="1.75" fill="#d9e1ef" stroke="#869dc6" stroke-width="0.95"/>
<ellipse cx="409.69" cy="385.83" rx="5.54" ry="4.37" transform="rotate(133 409.69 385.83)" fill="url(#cg)" stroke="#a2a2a2" stroke-width="0.85"/>
<circle cx="409.85" cy="386.37" r="1.9" fill="#d9e1ef" stroke="#869dc6" stroke-width="0.95"/>
<ellipse cx="423.03" cy="388.40" rx="4.78" ry="4.79" transform="rotate(148 423.03 388.40)" fill="url(#cg)" stroke="#a2a2a2" stroke-width="0.85"/>
<circle cx="422.52" cy="388.23" r="1.9" fill="#d9e1ef" stroke="#869dc6" stroke-width="0.95"/>
<ellipse cx="401.51" cy="391.14" rx="4.79" ry="4.47" transform="rotate(111 401.51 391.14)" fill="url(#cg)" stroke="#a2a2a2" stroke-width="0.85"/>
<circle cx="401.11" cy="390.88" r="1.75" fill="#d9e1ef" stroke="#869dc6" stroke-width="0.95"/>
<ellipse cx="368.91" cy="392.01" rx="5.47" ry="4.88" transform="rotate(136 368.91 392.01)" fill="url(#cg)" stroke="#a2a2a2" stroke-width="0.85"/>
<circle cx="368.89" cy="391.78" r="1.9" fill="#d9e1ef" stroke="#869dc6" stroke-width="0.95"/>
<ellipse cx="415.63" cy="392.28" rx="4.82" ry="4.48" transform="rotate(99 415.63 392.28)" fill="url(#cg)" stroke="#a2a2a2" stroke-width="0.85"/>
<circle cx="415.64" cy="392.15" r="1.9" fill="#d9e1ef" stroke="#869dc6" stroke-width="0.95"/>
<ellipse cx="385.72" cy="393.27" rx="4.95" ry="4.81" transform="rotate(36 385.72 393.27)" fill="url(#cg)" stroke="#a2a2a2" stroke-width="0.85"/>
<circle cx="386.02" cy="392.94" r="1.9" fill="#d9e1ef" stroke="#869dc6" stroke-width="0.95"/>
<ellipse cx="361.60" cy="395.71" rx="4.93" ry="4.52" transform="rotate(81 361.60 395.71)" fill="url(#cg)" stroke="#a2a2a2" stroke-width="0.85"/>
<circle cx="361.37" cy="395.95" r="1.9" fill="#d9e1ef" stroke="#869dc6" stroke-width="0.95"/>
<ellipse cx="395.00" cy="396.00" rx="4.45" ry="4.61" transform="rotate(78 395.00 396.00)" fill="url(#cg)" stroke="#a2a2a2" stroke-width="0.85"/>
<circle cx="394.80" cy="396.50" r="1.75" fill="#d9e1ef" stroke="#869dc6" stroke-width="0.95"/>
<ellipse cx="378.86" cy="398.38" rx="4.51" ry="4.29" transform="rotate(161 378.86 398.38)" fill="url(#cg)" stroke="#a2a2a2" stroke-width="0.85"/>
<circle cx="379.49" cy="397.69" r="1.9" fill="#d9e1ef" stroke="#869dc6" stroke-width="0.95"/>
<ellipse cx="406.78" cy="398.67" rx="4.70" ry="4.68" transform="rotate(72 406.78 398.67)" fill="url(#cg)" stroke="#a2a2a2" stroke-width="0.85"/>
<circle cx="406.79" cy="398.29" r="1.9" fill="#d9e1ef" stroke="#869dc6" stroke-width="0.95"/>
<ellipse cx="419.65" cy="398.97" rx="4.38" ry="4.18" transform="rotate(4 419.65 398.97)" fill="url(#cg)" stroke="#a2a2a2" stroke-width="0.85"/>
<circle cx="418.98" cy="398.48" r="1.75" fill="#d9e1ef" stroke="#869dc6" stroke-width="0.95"/>
<ellipse cx="388.32" cy="400.96" rx="5.22" ry="4.74" transform="rotate(76 388.32 400.96)" fill="url(#cg)" stroke="#a2a2a2" stroke-width="0.85"/>
<circle cx="388.68" cy="400.52" r="1.9" fill="#d9e1ef" stroke="#869dc6" stroke-width="0.95"/>
<ellipse cx="369.16" cy="402.13" rx="4.89" ry="4.39" transform="rotate(127 369.16 402.13)" fill="url(#cg)" stroke="#a2a2a2" stroke-width="0.85"/>
<circle cx="369.75" cy="402.50" r="1.9" fill="#d9e1ef" stroke="#869dc6" stroke-width="0.95"/>
<ellipse cx="396.55" cy="403.52" rx="5.23" ry="4.32" transform="rotate(145 396.55 403.52)" fill="url(#cg)" stroke="#a2a2a2" stroke-width="0.85"/>
<circle cx="396.27" cy="403.47" r="1.9" fill="#d9e1ef" stroke="#869dc6" stroke-width="0.95"/>
<ellipse cx="376.60" cy="405.94" rx="4.77" ry="4.64" transform="rotate(43 376.60 405.94)" fill="url(#cg)" stroke="#a2a2a2" stroke-width="0.85"/>
<circle cx="377.18" cy="405.65" r="1.75" fill="#d9e1ef" stroke="#869dc6" stroke-width="0.95"/>
<ellipse cx="362.32" cy="406.70" rx="4.88" ry="4.64" transform="rotate(173 362.32 406.70)" fill="url(#cg)" stroke="#a2a2a2" stroke-width="0.85"/>
<circle cx="362.90" cy="406.60" r="1.9" fill="#d9e1ef" stroke="#869dc6" stroke-width="0.95"/>
<ellipse cx="416.03" cy="407.60" rx="5.06" ry="5.23" transform="rotate(32 416.03 407.60)" fill="url(#cg)" stroke="#a2a2a2" stroke-width="0.85"/>
<circle cx="415.41" cy="408.08" r="1.9" fill="#d9e1ef" stroke="#869dc6" stroke-width="0.95"/>
<ellipse cx="390.44" cy="408.93" rx="5.20" ry="5.12" transform="rotate(172 390.44 408.93)" fill="url(#cg)" stroke="#a2a2a2" stroke-width="0.85"/>
<circle cx="390.04" cy="409.09" r="1.9" fill="#d9e1ef" stroke="#869dc6" stroke-width="0.95"/>
<ellipse cx="404.80" cy="411.58" rx="4.42" ry="4.59" transform="rotate(91 404.80 411.58)" fill="url(#cg)" stroke="#a2a2a2" stroke-width="0.85"/>
<circle cx="404.79" cy="412.18" r="1.75" fill="#d9e1ef" stroke="#869dc6" stroke-width="0.95"/>
<ellipse cx="396.80" cy="413.52" rx="5.06" ry="4.50" transform="rotate(66 396.80 413.52)" fill="url(#cg)" stroke="#a2a2a2" stroke-width="0.85"/>
<circle cx="396.71" cy="414.18" r="1.9" fill="#d9e1ef" stroke="#869dc6" stroke-width="0.95"/>
<ellipse cx="384.01" cy="414.50" rx="4.90" ry="4.71" transform="rotate(88 384.01 414.50)" fill="url(#cg)" stroke="#a2a2a2" stroke-width="0.85"/>
<circle cx="384.08" cy="414.35" r="1.75" fill="#d9e1ef" stroke="#869dc6" stroke-width="0.95"/>
<ellipse cx="373.34" cy="414.86" rx="5.23" ry="4.76" transform="rotate(179 373.34 414.86)" fill="url(#cg)" stroke="#a2a2a2" stroke-width="0.85"/>
<circle cx="372.72" cy="415.18" r="1.9" fill="#d9e1ef" stroke="#869dc6" stroke-width="0.95"/>
<ellipse cx="363.55" cy="415.42" rx="4.74" ry="4.64" transform="rotate(169 363.55 415.42)" fill="url(#cg)" stroke="#a2a2a2" stroke-width="0.85"/>
<circle cx="363.20" cy="415.64" r="1.9" fill="#d9e1ef" stroke="#869dc6" stroke-width="0.95"/>
<ellipse cx="411.95" cy="416.47" rx="4.75" ry="4.45" transform="rotate(119 411.95 416.47)" fill="url(#cg)" stroke="#a2a2a2" stroke-width="0.85"/>
<circle cx="412.58" cy="415.98" r="1.9" fill="#d9e1ef" stroke="#869dc6" stroke-width="0.95"/>
<ellipse cx="403.44" cy="420.24" rx="4.93" ry="4.75" transform="rotate(152 403.44 420.24)" fill="url(#cg)" stroke="#a2a2a2" stroke-width="0.85"/>
<circle cx="403.64" cy="420.71" r="1.9" fill="#d9e1ef" stroke="#869dc6" stroke-width="0.95"/>
<ellipse cx="385.07" cy="422.53" rx="5.23" ry="4.79" transform="rotate(147 385.07 422.53)" fill="url(#cg)" stroke="#a2a2a2" stroke-width="0.85"/>
<circle cx="384.61" cy="423.05" r="1.9" fill="#d9e1ef" stroke="#869dc6" stroke-width="0.95"/>
<ellipse cx="371.43" cy="422.60" rx="5.25" ry="4.89" transform="rotate(40 371.43 422.60)" fill="url(#cg)" stroke="#a2a2a2" stroke-width="0.85"/>
<circle cx="371.43" cy="422.97" r="1.9" fill="#d9e1ef" stroke="#869dc6" stroke-width="0.95"/>
<ellipse cx="393.59" cy="422.89" rx="4.60" ry="4.54" transform="rotate(52 393.59 422.89)" fill="url(#cg)" stroke="#a2a2a2" stroke-width="0.85"/>
<circle cx="393.83" cy="423.16" r="1.75" fill="#d9e1ef" stroke="#869dc6" stroke-width="0.95"/>
<ellipse cx="363.73" cy="424.75" rx="4.59" ry="4.28" transform="rotate(44 363.73 424.75)" fill="url(#cg)" stroke="#a2a2a2" stroke-width="0.85"/>
<circle cx="364.16" cy="424.10" r="1.9" fill="#d9e1ef" stroke="#869dc6" stroke-width="0.95"/>
<ellipse cx="378.30" cy="427.01" rx="5.39" ry="5.28" transform="rotate(106 378.30 427.01)" fill="url(#cg)" stroke="#a2a2a2" stroke-width="0.85"/>
<circle cx="377.97" cy="426.73" r="1.9" fill="#d9e1ef" stroke="#869dc6" stroke-width="0.95"/>
</g>
<line x1="360.6" y1="300.5" x2="360.6" y2="436.2" stroke="#111" stroke-width="1.4" stroke-dasharray="5.0 3.7"/>
<path d="M319.00,325.40 L319.61,325.35 L320.21,325.28 L320.76,325.16 L321.26,324.97 L321.70,324.71 L322.08,324.36 L322.39,323.94 L322.65,323.44 L322.86,322.89 L323.04,322.31 L323.22,321.72 L323.42,321.15 L323.64,320.62 L323.92,320.15 L324.25,319.75 L324.65,319.43 L325.12,319.20 L325.64,319.04 L326.21,318.94 L326.81,318.88 L327.43,318.83 L328.03,318.78 L328.62,318.69 L329.15,318.55 L329.63,318.33 L330.05,318.04 L330.40,317.67 L330.69,317.21 L330.93,316.70 L331.13,316.13 L331.31,315.55 L331.50,314.96 L331.70,314.40 L331.94,313.89 L332.24,313.44 L332.59,313.07 L333.02,312.79 L333.50,312.58 L334.04,312.44 L334.63,312.36" fill="none" stroke="#2b561d" stroke-width="2.1" stroke-linecap="round" stroke-linejoin="round"/>
<path d="M333.30,319.80 L333.88,319.97 L334.46,320.10 L335.02,320.18 L335.55,320.19 L336.05,320.10 L336.52,319.92 L336.95,319.64 L337.36,319.27 L337.75,318.84 L338.12,318.37 L338.49,317.88 L338.87,317.42 L339.26,316.99 L339.67,316.64 L340.11,316.37 L340.58,316.19 L341.09,316.12 L341.62,316.13 L342.18,316.22 L342.76,316.36 L343.34,316.53 L343.92,316.70 L344.50,316.83 L345.05,316.90 L345.58,316.89 L346.08,316.80 L346.54,316.60 L346.97,316.31 L347.38,315.94 L347.76,315.50 L348.14,315.02 L348.51,314.54 L348.88,314.07 L349.28,313.66 L349.69,313.31 L350.13,313.05 L350.61,312.89 L351.12,312.83 L351.66,312.85 L352.22,312.95" fill="none" stroke="#14973c" stroke-width="2.1" stroke-linecap="round" stroke-linejoin="round"/>
<path d="M301.60,345.20 L302.18,344.99 L302.73,344.75 L303.23,344.49 L303.67,344.17 L304.02,343.79 L304.29,343.36 L304.47,342.86 L304.58,342.31 L304.63,341.72 L304.66,341.11 L304.67,340.49 L304.70,339.88 L304.78,339.31 L304.92,338.78 L305.14,338.31 L305.44,337.90 L305.83,337.55 L306.30,337.26 L306.82,337.01 L307.39,336.79 L307.97,336.57 L308.54,336.35 L309.08,336.11 L309.55,335.82 L309.95,335.48 L310.27,335.08 L310.49,334.61 L310.64,334.09 L310.73,333.52 L310.76,332.92 L310.78,332.30 L310.80,331.69 L310.85,331.10 L310.95,330.54 L311.12,330.04 L311.38,329.59 L311.72,329.21 L312.14,328.88 L312.64,328.61 L313.18,328.37" fill="none" stroke="#14973c" stroke-width="2.1" stroke-linecap="round" stroke-linejoin="round"/>
<path d="M313.50,338.90 L314.09,338.74 L314.66,338.55 L315.18,338.33 L315.64,338.05 L316.02,337.70 L316.32,337.29 L316.55,336.82 L316.70,336.28 L316.81,335.70 L316.88,335.09 L316.94,334.48 L317.02,333.88 L317.14,333.32 L317.32,332.80 L317.57,332.35 L317.90,331.96 L318.31,331.64 L318.80,331.38 L319.34,331.18 L319.92,331.00 L320.51,330.84 L321.10,330.67 L321.65,330.47 L322.15,330.23 L322.58,329.93 L322.94,329.56 L323.21,329.12 L323.41,328.62 L323.54,328.07 L323.63,327.48 L323.70,326.87 L323.76,326.26 L323.86,325.67 L323.99,325.12 L324.20,324.63 L324.48,324.20 L324.84,323.83 L325.28,323.54 L325.78,323.30 L326.34,323.11 L326.93,322.94" fill="none" stroke="#14973c" stroke-width="2.1" stroke-linecap="round" stroke-linejoin="round"/>
<path d="M297.60,359.00 L297.26,359.51 L296.95,360.01 L296.69,360.52 L296.52,361.02 L296.45,361.53 L296.48,362.04 L296.62,362.54 L296.84,363.05 L297.14,363.56 L297.47,364.06 L297.82,364.57 L298.14,365.07 L298.42,365.58 L298.62,366.09 L298.73,366.59 L298.74,367.10 L298.64,367.61 L298.45,368.11 L298.18,368.62 L297.86,369.12 L297.51,369.63 L297.17,370.14 L296.87,370.64 L296.64,371.15 L296.49,371.66 L296.45,372.16 L296.51,372.67 L296.67,373.18 L296.91,373.68 L297.22,374.19 L297.56,374.69 L297.91,375.20" fill="none" stroke="#2b561d" stroke-width="2.1" stroke-linecap="round" stroke-linejoin="round"/>
<path d="M305.60,363.50 L306.05,363.09 L306.47,362.68 L306.84,362.25 L307.13,361.80 L307.32,361.33 L307.41,360.83 L307.40,360.31 L307.31,359.76 L307.15,359.21 L306.94,358.64 L306.73,358.06 L306.53,357.50 L306.38,356.94 L306.30,356.40 L306.31,355.88 L306.42,355.39 L306.63,354.92 L306.93,354.48 L307.31,354.05 L307.74,353.64 L308.19,353.23 L308.64,352.82 L309.05,352.40 L309.41,351.97 L309.68,351.52 L309.85,351.04 L309.92,350.54 L309.90,350.01 L309.79,349.47 L309.62,348.91 L309.41,348.34 L309.20,347.76 L309.01,347.20 L308.87,346.64 L308.80,346.11 L308.83,345.60 L308.96,345.11 L309.19,344.65 L309.50,344.20" fill="none" stroke="#2b561d" stroke-width="2.1" stroke-linecap="round" stroke-linejoin="round"/>
<path d="M302.70,371.80 L302.52,372.39 L302.36,372.97 L302.27,373.53 L302.25,374.07 L302.34,374.58 L302.52,375.06 L302.81,375.51 L303.18,375.93 L303.61,376.33 L304.09,376.73 L304.57,377.12 L305.03,377.51 L305.44,377.92 L305.77,378.36 L306.01,378.82 L306.14,379.31 L306.18,379.84 L306.12,380.39 L306.00,380.96 L305.82,381.55 L305.64,382.14 L305.46,382.73 L305.33,383.30 L305.28,383.85 L305.31,384.37 L305.44,384.87 L305.67,385.33 L306.00,385.77 L306.41,386.18 L306.86,386.58 L307.35,386.97 L307.82,387.36 L308.26,387.76 L308.63,388.18 L308.92,388.63 L309.11,389.11 L309.20,389.62 L309.19,390.15 L309.10,390.72 L308.94,391.30" fill="none" stroke="#14973c" stroke-width="2.1" stroke-linecap="round" stroke-linejoin="round"/>
<path d="M301.80,388.80 L301.74,389.41 L301.72,390.01 L301.74,390.58 L301.84,391.11 L302.03,391.59 L302.31,392.02 L302.68,392.40 L303.13,392.74 L303.65,393.04 L304.19,393.32 L304.74,393.60 L305.28,393.89 L305.76,394.20 L306.18,394.56 L306.51,394.96 L306.75,395.41 L306.89,395.91 L306.96,396.46 L306.96,397.05 L306.91,397.66 L306.85,398.27 L306.81,398.88 L306.80,399.47 L306.86,400.02 L307.00,400.53 L307.23,400.99 L307.55,401.39 L307.96,401.75 L308.44,402.07 L308.97,402.36 L309.53,402.64 L310.07,402.92 L310.59,403.22 L311.04,403.55 L311.42,403.92 L311.71,404.35 L311.91,404.82 L312.01,405.35" fill="none" stroke="#2b561d" stroke-width="2.1" stroke-linecap="round" stroke-linejoin="round"/>
<path d="M312.00,396.50 L312.12,397.11 L312.26,397.69 L312.44,398.23 L312.69,398.71 L313.00,399.12 L313.39,399.45 L313.85,399.71 L314.38,399.90 L314.95,400.05 L315.56,400.17 L316.17,400.28 L316.76,400.41 L317.31,400.58 L317.81,400.80 L318.24,401.09 L318.60,401.46 L318.88,401.90 L319.10,402.41 L319.26,402.97 L319.39,403.56 L319.50,404.17 L319.63,404.77 L319.79,405.34 L320.00,405.85 L320.27,406.30 L320.62,406.67 L321.04,406.97 L321.53,407.20 L322.08,407.37 L322.67,407.50 L323.28,407.62 L323.88,407.73 L324.46,407.88 L324.99,408.07 L325.46,408.32 L325.86,408.64 L326.18,409.04 L326.43,409.52 L326.62,410.05 L326.77,410.63" fill="none" stroke="#14973c" stroke-width="2.1" stroke-linecap="round" stroke-linejoin="round"/>
<path d="M315.40,410.00 L315.60,410.57 L315.82,411.12 L316.08,411.63 L316.38,412.06 L316.74,412.42 L317.16,412.70 L317.65,412.89 L318.18,413.02 L318.76,413.08 L319.36,413.12 L319.97,413.14 L320.57,413.18 L321.15,413.25 L321.67,413.38 L322.15,413.59 L322.56,413.88 L322.91,414.25 L323.21,414.70 L323.45,415.21 L323.67,415.77 L323.87,416.35 L324.07,416.92 L324.30,417.46 L324.56,417.95 L324.87,418.38 L325.25,418.72 L325.68,418.99 L326.17,419.17 L326.72,419.28 L327.30,419.34 L327.90,419.37 L328.51,419.39 L329.11,419.43 L329.67,419.52 L330.19,419.66 L330.66,419.88 L331.06,420.19 L331.40,420.57 L331.69,421.03 L331.93,421.55" fill="none" stroke="#14973c" stroke-width="2.1" stroke-linecap="round" stroke-linejoin="round"/>
<path d="M329.00,414.30 L329.39,414.78 L329.79,415.23 L330.20,415.62 L330.64,415.94 L331.11,416.15 L331.62,416.26 L332.15,416.27 L332.71,416.20 L333.28,416.06 L333.87,415.88 L334.47,415.70 L335.05,415.54 L335.62,415.43 L336.17,415.40 L336.68,415.46 L337.17,415.62 L337.63,415.89 L338.05,416.24 L338.46,416.66 L338.85,417.14 L339.24,417.62 L339.63,418.09 L340.04,418.52 L340.46,418.87 L340.92,419.13 L341.41,419.29 L341.92,419.35 L342.47,419.32 L343.04,419.21 L343.62,419.05 L344.22,418.86 L344.81,418.68 L345.39,418.55 L345.94,418.47 L346.48,418.49 L346.98,418.60 L347.45,418.82 L347.89,419.13 L348.30,419.52 L348.70,419.97" fill="none" stroke="#2b561d" stroke-width="2.1" stroke-linecap="round" stroke-linejoin="round"/>
<path d="M383.00,310.80 L383.49,311.17 L383.98,311.52 L384.48,311.80 L384.98,311.99 L385.49,312.09 L386.00,312.08 L386.52,311.96 L387.04,311.76 L387.57,311.49 L388.10,311.18 L388.63,310.86 L389.16,310.56 L389.68,310.32 L390.20,310.15 L390.72,310.08 L391.23,310.12 L391.73,310.26 L392.23,310.50 L392.72,310.81 L393.22,311.17 L393.71,311.55 L394.20,311.91 L394.69,312.23 L395.19,312.48 L395.69,312.63 L396.20,312.68 L396.72,312.62 L397.24,312.46 L397.76,312.22 L398.29,311.93 L398.82,311.61 L399.35,311.30 L399.88,311.02 L400.40,310.81 L400.92,310.69 L401.43,310.67 L401.94,310.75 L402.44,310.94 L402.94,311.21" fill="none" stroke="#14973c" stroke-width="2.1" stroke-linecap="round" stroke-linejoin="round"/>
<path d="M414.00,319.80 L414.06,320.40 L414.14,320.99 L414.27,321.54 L414.46,322.03 L414.73,322.47 L415.07,322.83 L415.49,323.14 L415.98,323.38 L416.52,323.59 L417.10,323.76 L417.69,323.93 L418.26,324.11 L418.80,324.31 L419.28,324.57 L419.69,324.88 L420.03,325.25 L420.28,325.69 L420.46,326.20 L420.59,326.75 L420.66,327.34 L420.72,327.94 L420.78,328.55 L420.87,329.13 L421.01,329.67 L421.20,330.16 L421.48,330.58 L421.83,330.94 L422.26,331.24 L422.76,331.48 L423.31,331.68 L423.88,331.85 L424.47,332.02 L425.04,332.20 L425.57,332.41 L426.05,332.67 L426.45,332.99 L426.78,333.37" fill="none" stroke="#2b561d" stroke-width="2.1" stroke-linecap="round" stroke-linejoin="round"/>
<path d="M374.30,347.60 L374.90,347.50 L375.48,347.38 L376.02,347.22 L376.50,347.00 L376.92,346.70 L377.27,346.34 L377.54,345.89 L377.76,345.39 L377.93,344.83 L378.06,344.24 L378.19,343.64 L378.34,343.06 L378.51,342.51 L378.74,342.02 L379.02,341.59 L379.38,341.23 L379.81,340.95 L380.31,340.74 L380.85,340.59 L381.44,340.47 L382.04,340.38 L382.64,340.28 L383.22,340.15 L383.75,339.98 L384.22,339.74 L384.62,339.44 L384.96,339.05 L385.22,338.60 L385.43,338.08 L385.59,337.52 L385.72,336.93 L385.85,336.33 L386.00,335.75 L386.18,335.21 L386.42,334.73 L386.72,334.31 L387.09,333.97 L387.53,333.70 L388.03,333.50" fill="none" stroke="#14973c" stroke-width="2.1" stroke-linecap="round" stroke-linejoin="round"/>
<path d="M410.80,349.20 L411.33,349.50 L411.86,349.77 L412.39,349.98 L412.91,350.11 L413.42,350.13 L413.92,350.06 L414.42,349.88 L414.90,349.61 L415.39,349.28 L415.86,348.90 L416.34,348.51 L416.82,348.15 L417.30,347.83 L417.79,347.59 L418.28,347.44 L418.79,347.39 L419.30,347.45 L419.82,347.60 L420.35,347.83 L420.88,348.11 L421.42,348.42 L421.95,348.71 L422.48,348.97 L423.01,349.15 L423.52,349.25 L424.03,349.25 L424.53,349.14 L425.02,348.94 L425.51,348.65 L425.99,348.30 L426.47,347.92 L426.94,347.53 L427.42,347.18 L427.90,346.88 L428.40,346.66 L428.89,346.54 L429.40,346.53 L429.92,346.61" fill="none" stroke="#14973c" stroke-width="2.1" stroke-linecap="round" stroke-linejoin="round"/>
<path d="M425.00,355.60 L424.90,356.21 L424.84,356.80 L424.83,357.37 L424.89,357.90 L425.04,358.39 L425.29,358.83 L425.63,359.23 L426.05,359.60 L426.53,359.93 L427.06,360.24 L427.59,360.56 L428.10,360.88 L428.56,361.22 L428.96,361.59 L429.27,362.01 L429.49,362.47 L429.61,362.97 L429.65,363.51 L429.62,364.09 L429.54,364.69 L429.44,365.30 L429.35,365.90 L429.30,366.49 L429.31,367.04 L429.40,367.56 L429.58,368.04 L429.86,368.47 L430.23,368.85 L430.67,369.21 L431.17,369.53 L431.70,369.85 L432.23,370.16 L432.72,370.48 L433.17,370.84 L433.54,371.22 L433.82,371.65 L434.01,372.13" fill="none" stroke="#2b561d" stroke-width="2.1" stroke-linecap="round" stroke-linejoin="round"/>
<path d="M377.00,371.50 L377.51,371.83 L378.02,372.13 L378.53,372.36 L379.04,372.52 L379.54,372.58 L380.04,372.54 L380.54,372.40 L381.04,372.17 L381.54,371.87 L382.03,371.52 L382.52,371.17 L383.02,370.83 L383.51,370.53 L384.01,370.31 L384.51,370.18 L385.01,370.15 L385.52,370.22 L386.02,370.39 L386.53,370.64 L387.04,370.94 L387.55,371.27 L388.07,371.60 L388.58,371.89 L389.09,372.12 L389.59,372.27 L390.10,372.32 L390.60,372.26 L391.10,372.11 L391.59,371.87 L392.09,371.56 L392.58,371.22 L393.08,370.86 L393.57,370.52 L394.07,370.24 L394.56,370.02 L395.06,369.90 L395.57,369.89 L396.07,369.97 L396.58,370.15" fill="none" stroke="#14973c" stroke-width="2.1" stroke-linecap="round" stroke-linejoin="round"/>
<path d="M416.10,366.70 L416.27,367.29 L416.47,367.85 L416.70,368.37 L416.98,368.82 L417.33,369.20 L417.74,369.49 L418.22,369.71 L418.76,369.86 L419.34,369.95 L419.94,370.01 L420.55,370.07 L421.15,370.13 L421.72,370.24 L422.24,370.41 L422.70,370.65 L423.09,370.97 L423.42,371.37 L423.69,371.84 L423.91,372.37 L424.09,372.94 L424.27,373.53 L424.44,374.11 L424.65,374.67 L424.89,375.17 L425.19,375.60 L425.56,375.95 L425.99,376.22 L426.49,376.42 L427.04,376.55 L427.62,376.63 L428.23,376.69 L428.84,376.74 L429.44,376.82 L429.99,376.94 L430.49,377.13 L430.94,377.39 L431.31,377.73" fill="none" stroke="#2b561d" stroke-width="2.1" stroke-linecap="round" stroke-linejoin="round"/>
<path d="M403.40,382.90 L403.94,383.20 L404.47,383.47 L405.01,383.68 L405.53,383.81 L406.05,383.83 L406.55,383.75 L407.05,383.57 L407.54,383.29 L408.03,382.95 L408.51,382.57 L408.99,382.17 L409.47,381.81 L409.96,381.49 L410.45,381.26 L410.96,381.12 L411.47,381.09 L411.99,381.17 L412.51,381.34 L413.05,381.58 L413.58,381.87 L414.12,382.18 L414.66,382.47 L415.20,382.71 L415.72,382.88 L416.24,382.96 L416.75,382.93 L417.26,382.80 L417.75,382.57 L418.24,382.26 L418.72,381.89 L419.20,381.50 L419.69,381.12 L420.17,380.78 L420.66,380.50 L421.16,380.31 L421.66,380.22 L422.18,380.25 L422.70,380.37 L423.23,380.57 L423.77,380.84" fill="none" stroke="#2b561d" stroke-width="2.1" stroke-linecap="round" stroke-linejoin="round"/>
<path d="M412.70,389.70 L412.56,390.29 L412.45,390.87 L412.40,391.43 L412.41,391.96 L412.52,392.45 L412.73,392.91 L413.03,393.33 L413.41,393.72 L413.85,394.09 L414.34,394.44 L414.84,394.79 L415.32,395.14 L415.77,395.51 L416.14,395.90 L416.43,396.33 L416.63,396.79 L416.74,397.28 L416.75,397.81 L416.69,398.37 L416.58,398.95 L416.44,399.54 L416.30,400.13 L416.19,400.71 L416.14,401.27 L416.17,401.80 L416.28,402.29 L416.49,402.75 L416.79,403.17 L417.18,403.56 L417.63,403.92 L418.12,404.27 L418.62,404.62 L419.10,404.97 L419.54,405.34 L419.91,405.73 L420.20,406.16 L420.39,406.62 L420.49,407.12" fill="none" stroke="#2b561d" stroke-width="2.1" stroke-linecap="round" stroke-linejoin="round"/>
<path d="M378.70,395.30 L379.16,395.70 L379.63,396.07 L380.10,396.39 L380.58,396.61 L381.07,396.75 L381.58,396.78 L382.10,396.70 L382.63,396.54 L383.17,396.31 L383.71,396.04 L384.25,395.76 L384.80,395.50 L385.33,395.28 L385.86,395.14 L386.38,395.10 L386.88,395.15 L387.37,395.31 L387.85,395.57 L388.32,395.90 L388.78,396.28 L389.24,396.68 L389.70,397.08 L390.17,397.44 L390.64,397.73 L391.13,397.94 L391.63,398.04 L392.14,398.04 L392.66,397.95 L393.19,397.76 L393.73,397.52 L394.27,397.24 L394.82,396.96 L395.36,396.71 L395.89,396.52 L396.42,396.40 L396.93,396.38 L397.43,396.46 L397.92,396.65 L398.40,396.92" fill="none" stroke="#14973c" stroke-width="2.1" stroke-linecap="round" stroke-linejoin="round"/>
<path d="M411.00,410.00 L410.62,410.47 L410.26,410.95 L409.97,411.43 L409.75,411.92 L409.64,412.41 L409.63,412.92 L409.71,413.43 L409.89,413.95 L410.14,414.48 L410.42,415.01 L410.72,415.55 L411.01,416.08 L411.24,416.60 L411.40,417.12 L411.47,417.64 L411.44,418.14 L411.31,418.63 L411.08,419.12 L410.77,419.60 L410.41,420.08 L410.02,420.55 L409.64,421.02 L409.30,421.50 L409.01,421.98 L408.82,422.47 L408.72,422.97 L408.73,423.47 L408.83,423.99 L409.02,424.51 L409.28,425.04 L409.57,425.57 L409.87,426.11 L410.15,426.64 L410.37,427.16 L410.52,427.68 L410.57,428.19 L410.52,428.69 L410.36,429.19 L410.12,429.67" fill="none" stroke="#14973c" stroke-width="2.1" stroke-linecap="round" stroke-linejoin="round"/>
<path d="M380.40,425.40 L380.93,425.70 L381.46,425.96 L381.99,426.17 L382.50,426.30 L383.01,426.33 L383.51,426.25 L384.00,426.08 L384.49,425.81 L384.96,425.48 L385.44,425.10 L385.91,424.72 L386.38,424.35 L386.86,424.03 L387.35,423.78 L387.84,423.62 L388.34,423.56 L388.85,423.61 L389.37,423.75 L389.90,423.98 L390.43,424.25 L390.96,424.55 L391.49,424.84 L392.02,425.10 L392.54,425.29 L393.06,425.40 L393.57,425.41 L394.06,425.32 L394.55,425.13 L395.04,424.85 L395.51,424.51 L395.99,424.13 L396.46,423.74 L396.93,423.38 L397.41,423.07 L397.90,422.83 L398.39,422.69 L398.90,422.66 L399.41,422.72 L399.93,422.88" fill="none" stroke="#14973c" stroke-width="2.1" stroke-linecap="round" stroke-linejoin="round"/>
<text x="298.20" y="450.40" font-size="8.0" font-weight="bold" stroke="#111" stroke-width="0.3" text-anchor="start" fill="#111" textLength="55.3" lengthAdjust="spacingAndGlyphs" >HeLa spheroids</text>
<text x="367.70" y="450.60" font-size="8.0" font-weight="bold" stroke="#111" stroke-width="0.3" text-anchor="start" fill="#111" textLength="67.2" lengthAdjust="spacingAndGlyphs" >HEK-293 spheroids</text>
<path d="M293.80,465.00 L294.31,464.71 L294.83,464.44 L295.34,464.19 L295.86,463.98 L296.37,463.83 L296.89,463.73 L297.40,463.70 L297.91,463.73 L298.43,463.83 L298.94,463.98 L299.46,464.19 L299.97,464.44 L300.49,464.71 L301.00,465.00 L301.51,465.29 L302.03,465.56 L302.54,465.81 L303.06,466.02 L303.57,466.17 L304.09,466.27 L304.60,466.30 L305.11,466.27 L305.63,466.17 L306.14,466.02 L306.66,465.81 L307.17,465.56 L307.69,465.29 L308.20,465.00" fill="none" stroke="#14973c" stroke-width="2.2" stroke-linecap="round" stroke-linejoin="round"/>
<path d="M359.40,465.20 L359.90,464.89 L360.41,464.59 L360.91,464.33 L361.41,464.13 L361.91,463.98 L362.42,463.91 L362.92,463.91 L363.42,463.99 L363.92,464.14 L364.43,464.35 L364.93,464.61 L365.43,464.91 L365.93,465.22 L366.44,465.53 L366.94,465.83 L367.44,466.08 L367.94,466.29 L368.45,466.43 L368.95,466.49 L369.45,466.49 L369.95,466.40 L370.46,466.25 L370.96,466.03 L371.46,465.77 L371.96,465.47 L372.47,465.16 L372.97,464.85 L373.47,464.56 L373.97,464.30 L374.48,464.10 L374.98,463.97 L375.48,463.90 L375.98,463.92 L376.49,464.00 L376.99,464.16 L377.49,464.38 L377.99,464.65 L378.50,464.95 L379.00,465.26" fill="none" stroke="#2b561d" stroke-width="2.2" stroke-linecap="round" stroke-linejoin="round"/>
<text x="312.7" y="468.3" font-size="8.2" fill="#333"><tspan textLength="35.6" lengthAdjust="spacingAndGlyphs">sC18/sC18</tspan><tspan font-size="7" font-weight="bold" dx="0.4">*</tspan></text>
<text x="382.3" y="468.3" font-size="8.2" fill="#333"><tspan textLength="16.6" lengthAdjust="spacingAndGlyphs">sC18</tspan><tspan font-size="4.4" dy="-3.2">ΔE</tspan><tspan dy="3.2" textLength="20.8" lengthAdjust="spacingAndGlyphs">/sC18</tspan><tspan font-size="6.5" font-weight="bold">*</tspan><tspan font-size="4.4" dy="-3.2">R,L</tspan></text>
<rect x="0" y="358" width="12.4" height="12" fill="#fff"/>
<rect x="0" y="535" width="13.6" height="12" fill="#fff"/>
</svg>
</body></html>
